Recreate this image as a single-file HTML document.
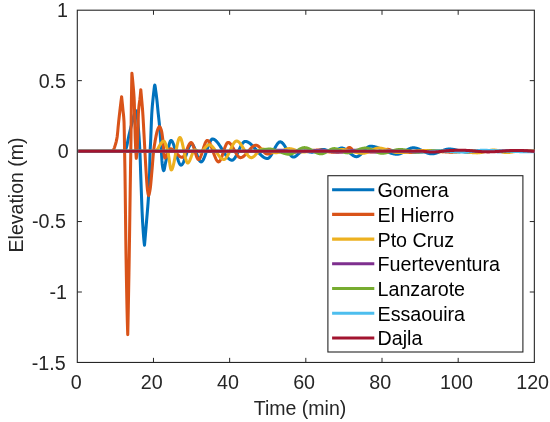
<!DOCTYPE html>
<html><head><meta charset="utf-8"><title>Elevation vs Time</title>
<style>html,body{margin:0;padding:0;background:#fff}body{width:550px;height:422px;overflow:hidden}</style></head>
<body>
<svg width="550" height="422" viewBox="0 0 550 422" style="display:block;font-family:'Liberation Sans',Arial,Helvetica,sans-serif">
<rect width="550" height="422" fill="#fff"/>
<g stroke="#262626" stroke-width="1.1" fill="none">
<rect x="77.3" y="10.2" width="457.05" height="352.25"/>
<path stroke-width="1.0" d="M153.48 362.45v-4.6M153.48 10.2v4.6M229.65 362.45v-4.6M229.65 10.2v4.6M305.82 362.45v-4.6M305.82 10.2v4.6M382.00 362.45v-4.6M382.00 10.2v4.6M458.18 362.45v-4.6M458.18 10.2v4.6M77.3 80.65h4.6M534.35 80.65h-4.6M77.3 151.10h4.6M534.35 151.10h-4.6M77.3 221.55h4.6M534.35 221.55h-4.6M77.3 292.00h4.6M534.35 292.00h-4.6"/>
</g>
<g fill="none" stroke-width="3.05" stroke-linejoin="round" stroke-linecap="butt">
<path stroke="#0072BD" d="M78.20 151.30 L124.30 151.30 L124.40 151.29 L124.70 151.13 L125.00 150.82 L125.30 150.45 L125.30 150.45 L125.60 149.90 L125.90 149.09 L126.20 148.11 L126.50 147.07 L126.50 147.07 L126.80 145.92 L127.10 144.59 L127.40 143.13 L127.70 141.58 L128.00 140.01 L128.30 138.46 L128.60 136.99 L128.80 136.07 L128.90 135.63 L129.20 134.33 L129.50 133.06 L129.80 131.81 L130.10 130.57 L130.40 129.36 L130.70 128.16 L131.00 126.98 L131.30 125.80 L131.60 124.64 L131.90 123.48 L132.00 123.10 L132.20 122.32 L132.50 121.09 L132.80 119.85 L133.10 118.61 L133.40 117.42 L133.70 116.30 L134.00 115.29 L134.30 114.42 L134.50 113.94 L134.60 113.71 L134.90 113.03 L135.20 112.36 L135.50 111.76 L135.80 111.28 L136.10 110.95 L136.40 110.83 L136.40 110.83 L136.70 111.50 L137.00 113.29 L137.30 115.95 L137.60 119.17 L137.90 122.68 L138.20 126.20 L138.30 127.33 L138.50 129.61 L138.80 133.33 L139.10 137.48 L139.40 142.14 L139.70 147.41 L139.90 151.30 L140.00 153.53 L140.30 161.92 L140.60 171.06 L140.70 173.86 L140.90 179.33 L141.20 187.75 L141.50 196.17 L141.80 204.25 L142.10 211.70 L142.40 218.17 L142.60 221.80 L142.70 223.44 L143.00 228.21 L143.30 232.66 L143.60 236.68 L143.90 240.18 L144.20 243.05 L144.50 245.21 L144.80 241.83 L145.10 238.40 L145.40 234.92 L145.70 231.41 L146.00 227.84 L146.30 224.23 L146.50 221.80 L146.60 220.59 L146.90 217.03 L147.20 213.53 L147.50 209.97 L147.80 206.28 L148.10 202.34 L148.40 198.08 L148.60 195.01 L148.70 193.42 L149.00 188.31 L149.30 182.01 L149.40 179.50 L149.60 172.24 L149.90 158.36 L150.10 151.30 L150.20 149.06 L150.50 143.88 L150.60 141.99 L150.80 137.44 L151.10 129.59 L151.40 121.66 L151.70 114.96 L151.80 113.23 L152.00 110.28 L152.30 106.48 L152.60 103.19 L152.90 100.14 L153.00 99.13 L153.20 97.14 L153.50 94.33 L153.80 91.75 L153.90 90.95 L154.10 89.20 L154.40 86.55 L154.70 85.07 L154.75 85.03 L155.00 85.64 L155.30 87.52 L155.60 89.86 L155.75 90.95 L155.90 91.99 L156.20 94.20 L156.50 96.58 L156.80 99.13 L156.80 99.13 L157.10 101.92 L157.40 104.96 L157.70 108.11 L158.00 111.24 L158.20 113.23 L158.30 114.19 L158.60 116.91 L158.90 119.60 L159.20 122.43 L159.40 124.51 L159.50 125.62 L159.80 129.14 L160.10 132.94 L160.40 136.95 L160.70 141.14 L161.00 145.45 L161.30 149.83 L161.40 151.30 L161.60 154.66 L161.90 160.15 L162.20 163.99 L162.20 163.99 L162.50 166.09 L162.80 167.91 L163.10 169.34 L163.40 170.28 L163.70 170.62 L163.70 170.62 L164.00 170.25 L164.30 169.26 L164.60 167.85 L164.90 166.21 L165.20 164.54 L165.50 163.02 L165.60 162.58 L165.80 161.72 L166.10 160.33 L166.40 158.84 L166.70 157.29 L167.00 155.68 L167.30 154.05 L167.60 152.41 L167.90 150.79 L168.20 149.21 L168.50 147.69 L168.80 146.26 L169.10 144.93 L169.40 143.73 L169.70 142.68 L170.00 141.81 L170.30 141.13 L170.60 140.67 L170.90 140.46 L171.00 140.44 L171.20 140.47 L171.50 140.62 L171.80 140.89 L172.10 141.27 L172.40 141.76 L172.70 142.34 L173.00 143.01 L173.30 143.76 L173.60 144.58 L173.90 145.46 L174.20 146.41 L174.50 147.40 L174.80 148.42 L175.10 149.49 L175.40 150.57 L175.70 151.67 L176.00 152.78 L176.30 153.89 L176.60 154.99 L176.90 156.08 L177.20 157.14 L177.50 158.17 L177.80 159.15 L178.10 160.10 L178.40 160.98 L178.70 161.80 L179.00 162.55 L179.30 163.22 L179.60 163.80 L179.90 164.29 L180.20 164.67 L180.50 164.94 L180.80 165.09 L181.00 165.12 L181.10 165.11 L181.40 165.03 L181.70 164.85 L182.00 164.58 L182.30 164.23 L182.60 163.79 L182.90 163.29 L183.20 162.72 L183.50 162.09 L183.80 161.41 L184.10 160.68 L184.40 159.90 L184.70 159.09 L185.00 158.25 L185.30 157.38 L185.60 156.50 L185.90 155.60 L186.20 154.69 L186.50 153.79 L186.80 152.89 L187.10 152.00 L187.40 151.12 L187.70 150.27 L188.00 149.45 L188.30 148.66 L188.60 147.92 L188.90 147.22 L189.20 146.57 L189.50 145.98 L189.80 145.45 L190.10 145.00 L190.40 144.62 L190.70 144.32 L191.00 144.11 L191.30 143.99 L191.50 143.97 L191.60 143.97 L191.90 144.06 L192.20 144.24 L192.50 144.51 L192.80 144.86 L193.10 145.29 L193.40 145.79 L193.70 146.36 L194.00 146.98 L194.30 147.65 L194.60 148.36 L194.90 149.12 L195.20 149.90 L195.50 150.70 L195.80 151.53 L196.10 152.36 L196.40 153.20 L196.70 154.04 L197.00 154.87 L197.30 155.68 L197.60 156.47 L197.90 157.23 L198.20 157.96 L198.50 158.65 L198.80 159.28 L199.10 159.87 L199.40 160.39 L199.70 160.84 L200.00 161.22 L200.30 161.52 L200.60 161.73 L200.90 161.85 L201.10 161.88 L201.20 161.87 L201.50 161.79 L201.80 161.63 L202.10 161.38 L202.40 161.05 L202.70 160.65 L203.00 160.18 L203.30 159.65 L203.60 159.06 L203.90 158.42 L204.20 157.73 L204.50 156.99 L204.80 156.22 L205.10 155.41 L205.40 154.58 L205.70 153.72 L206.00 152.84 L206.30 151.95 L206.60 151.05 L206.90 150.15 L207.20 149.25 L207.50 148.36 L207.80 147.48 L208.10 146.61 L208.40 145.77 L208.70 144.95 L209.00 144.17 L209.30 143.42 L209.60 142.72 L209.90 142.06 L210.20 141.45 L210.50 140.90 L210.80 140.41 L211.10 139.98 L211.40 139.63 L211.70 139.35 L212.00 139.16 L212.30 139.05 L212.50 139.03 L212.60 139.03 L212.90 139.06 L213.20 139.11 L213.50 139.19 L213.80 139.30 L214.10 139.44 L214.40 139.60 L214.70 139.78 L215.00 139.99 L215.30 140.22 L215.60 140.47 L215.90 140.74 L216.20 141.03 L216.50 141.34 L216.80 141.66 L217.10 142.01 L217.40 142.37 L217.70 142.74 L218.00 143.13 L218.30 143.53 L218.60 143.95 L218.90 144.37 L219.20 144.81 L219.50 145.25 L219.80 145.71 L220.10 146.17 L220.40 146.63 L220.70 147.11 L221.00 147.59 L221.30 148.07 L221.60 148.55 L221.90 149.04 L222.20 149.53 L222.50 150.01 L222.80 150.50 L223.10 150.99 L223.40 151.47 L223.70 151.95 L224.00 152.42 L224.30 152.89 L224.60 153.36 L224.90 153.81 L225.20 154.26 L225.50 154.70 L225.80 155.13 L226.10 155.55 L226.40 155.95 L226.70 156.35 L227.00 156.72 L227.30 157.09 L227.60 157.44 L227.90 157.77 L228.20 158.09 L228.50 158.38 L228.80 158.66 L229.10 158.92 L229.40 159.16 L229.70 159.37 L230.00 159.56 L230.30 159.73 L230.60 159.87 L230.90 159.99 L231.20 160.08 L231.50 160.14 L231.80 160.18 L232.00 160.18 L232.10 160.18 L232.40 160.13 L232.70 160.03 L233.00 159.88 L233.30 159.67 L233.60 159.42 L233.90 159.13 L234.20 158.79 L234.50 158.42 L234.80 158.01 L235.10 157.57 L235.40 157.09 L235.70 156.59 L236.00 156.06 L236.30 155.51 L236.60 154.94 L236.90 154.35 L237.20 153.75 L237.50 153.13 L237.80 152.50 L238.10 151.87 L238.40 151.23 L238.70 150.59 L239.00 149.96 L239.30 149.32 L239.60 148.69 L239.90 148.07 L240.20 147.46 L240.50 146.87 L240.80 146.29 L241.10 145.73 L241.40 145.20 L241.70 144.69 L242.00 144.20 L242.30 143.75 L242.60 143.33 L242.90 142.94 L243.20 142.59 L243.50 142.28 L243.80 142.02 L244.10 141.80 L244.40 141.63 L244.70 141.51 L245.00 141.44 L245.20 141.43 L245.30 141.43 L245.60 141.45 L245.90 141.48 L246.20 141.53 L246.50 141.60 L246.80 141.68 L247.10 141.78 L247.40 141.90 L247.70 142.03 L248.00 142.18 L248.30 142.34 L248.60 142.51 L248.90 142.69 L249.20 142.89 L249.50 143.10 L249.80 143.32 L250.10 143.56 L250.40 143.80 L250.70 144.05 L251.00 144.32 L251.30 144.59 L251.60 144.87 L251.90 145.15 L252.20 145.45 L252.50 145.75 L252.80 146.06 L253.10 146.37 L253.40 146.69 L253.70 147.02 L254.00 147.35 L254.30 147.68 L254.60 148.02 L254.90 148.36 L255.20 148.70 L255.50 149.04 L255.80 149.38 L256.10 149.73 L256.40 150.08 L256.70 150.42 L257.00 150.77 L257.30 151.11 L257.60 151.45 L257.90 151.79 L258.20 152.13 L258.50 152.46 L258.80 152.79 L259.10 153.12 L259.40 153.44 L259.70 153.76 L260.00 154.07 L260.30 154.37 L260.60 154.67 L260.90 154.96 L261.20 155.24 L261.50 155.52 L261.80 155.78 L262.10 156.04 L262.40 156.28 L262.70 156.52 L263.00 156.75 L263.30 156.96 L263.60 157.16 L263.90 157.35 L264.20 157.53 L264.50 157.69 L264.80 157.84 L265.10 157.98 L265.40 158.10 L265.70 158.21 L266.00 158.30 L266.30 158.37 L266.60 158.43 L266.90 158.47 L267.20 158.49 L267.40 158.49 L267.50 158.49 L267.80 158.44 L268.10 158.35 L268.40 158.20 L268.70 158.01 L269.00 157.78 L269.30 157.50 L269.60 157.19 L269.90 156.83 L270.20 156.45 L270.50 156.04 L270.80 155.59 L271.10 155.12 L271.40 154.63 L271.70 154.12 L272.00 153.59 L272.30 153.04 L272.60 152.48 L272.90 151.92 L273.20 151.34 L273.50 150.76 L273.80 150.17 L274.10 149.59 L274.40 149.01 L274.70 148.43 L275.00 147.86 L275.30 147.30 L275.60 146.75 L275.90 146.22 L276.20 145.71 L276.50 145.22 L276.80 144.75 L277.10 144.31 L277.40 143.89 L277.70 143.51 L278.00 143.16 L278.30 142.84 L278.60 142.57 L278.90 142.33 L279.20 142.14 L279.50 142.00 L279.80 141.90 L280.10 141.86 L280.20 141.85 L280.40 141.86 L280.70 141.92 L281.00 142.01 L281.30 142.15 L281.60 142.32 L281.90 142.54 L282.20 142.78 L282.50 143.06 L282.80 143.37 L283.10 143.71 L283.40 144.07 L283.70 144.46 L284.00 144.87 L284.30 145.30 L284.60 145.75 L284.90 146.21 L285.20 146.69 L285.50 147.18 L285.80 147.68 L286.10 148.18 L286.40 148.70 L286.70 149.21 L287.00 149.72 L287.30 150.24 L287.60 150.75 L287.90 151.26 L288.20 151.75 L288.50 152.24 L288.80 152.72 L289.10 153.18 L289.40 153.63 L289.70 154.06 L290.00 154.47 L290.30 154.86 L290.60 155.22 L290.90 155.56 L291.20 155.87 L291.50 156.15 L291.80 156.40 L292.10 156.61 L292.40 156.79 L292.70 156.92 L293.00 157.02 L293.30 157.07 L293.50 157.08 L293.60 157.08 L293.90 157.05 L294.20 156.99 L294.50 156.89 L294.80 156.77 L295.10 156.62 L295.40 156.45 L295.70 156.26 L296.00 156.04 L296.30 155.81 L296.60 155.57 L296.90 155.31 L297.20 155.04 L297.50 154.76 L297.80 154.48 L298.10 154.19 L298.40 153.91 L298.70 153.62 L299.00 153.34 L299.30 153.06 L299.60 152.79 L299.90 152.53 L300.20 152.29 L300.50 152.06 L300.80 151.84 L301.10 151.65 L301.40 151.48 L301.70 151.33 L302.00 151.21 L302.30 151.11 L302.60 151.05 L302.90 151.02 L303.00 151.02 L303.20 151.02 L303.50 151.03 L303.80 151.04 L304.10 151.06 L304.40 151.09 L304.70 151.12 L305.00 151.16 L305.30 151.20 L305.60 151.25 L305.90 151.29 L306.20 151.34 L306.50 151.40 L306.80 151.45 L307.10 151.51 L307.40 151.56 L307.70 151.62 L308.00 151.68 L308.30 151.73 L308.60 151.78 L308.90 151.84 L309.20 151.89 L309.50 151.93 L309.80 151.98 L310.10 152.02 L310.40 152.05 L310.70 152.08 L311.00 152.11 L311.30 152.13 L311.60 152.14 L311.90 152.15 L312.00 152.15 L312.20 152.14 L312.50 152.13 L312.80 152.11 L313.10 152.07 L313.40 152.03 L313.70 151.97 L314.00 151.91 L314.30 151.84 L314.60 151.77 L314.90 151.69 L315.20 151.60 L315.50 151.50 L315.80 151.41 L316.10 151.31 L316.40 151.20 L316.70 151.10 L317.00 150.99 L317.30 150.88 L317.60 150.77 L317.90 150.66 L318.20 150.55 L318.50 150.45 L318.80 150.34 L319.10 150.24 L319.40 150.14 L319.70 150.05 L320.00 149.96 L320.30 149.87 L320.60 149.79 L320.90 149.72 L321.20 149.66 L321.50 149.60 L321.80 149.56 L322.10 149.52 L322.40 149.49 L322.70 149.47 L323.00 149.47 L323.00 149.47 L323.30 149.47 L323.60 149.49 L323.90 149.53 L324.20 149.57 L324.50 149.62 L324.80 149.69 L325.10 149.76 L325.40 149.84 L325.70 149.92 L326.00 150.02 L326.30 150.11 L326.60 150.21 L326.90 150.31 L327.20 150.42 L327.50 150.52 L327.80 150.63 L328.10 150.73 L328.40 150.84 L328.70 150.94 L329.00 151.03 L329.30 151.13 L329.60 151.21 L329.90 151.29 L330.20 151.36 L330.50 151.43 L330.80 151.48 L331.10 151.52 L331.40 151.56 L331.70 151.58 L332.00 151.58 L332.00 151.58 L332.30 151.57 L332.60 151.54 L332.90 151.50 L333.20 151.44 L333.50 151.36 L333.80 151.27 L334.10 151.17 L334.40 151.05 L334.70 150.93 L335.00 150.79 L335.30 150.65 L335.60 150.50 L335.90 150.35 L336.20 150.19 L336.50 150.03 L336.80 149.87 L337.10 149.71 L337.40 149.55 L337.70 149.39 L338.00 149.24 L338.30 149.08 L338.60 148.94 L338.90 148.80 L339.20 148.67 L339.50 148.55 L339.80 148.44 L340.10 148.34 L340.40 148.25 L340.70 148.18 L341.00 148.12 L341.30 148.08 L341.60 148.06 L341.80 148.06 L341.90 148.06 L342.20 148.08 L342.50 148.11 L342.80 148.17 L343.10 148.25 L343.40 148.34 L343.70 148.45 L344.00 148.58 L344.30 148.72 L344.60 148.87 L344.90 149.04 L345.20 149.22 L345.50 149.42 L345.80 149.62 L346.10 149.83 L346.40 150.06 L346.70 150.29 L347.00 150.52 L347.30 150.77 L347.60 151.02 L347.90 151.27 L348.20 151.53 L348.50 151.79 L348.80 152.05 L349.10 152.31 L349.40 152.58 L349.70 152.84 L350.00 153.10 L350.30 153.36 L350.60 153.61 L350.90 153.86 L351.20 154.11 L351.50 154.35 L351.80 154.58 L352.10 154.81 L352.40 155.02 L352.70 155.23 L353.00 155.43 L353.30 155.61 L353.60 155.79 L353.90 155.95 L354.20 156.09 L354.50 156.22 L354.80 156.34 L355.10 156.44 L355.40 156.52 L355.70 156.58 L356.00 156.63 L356.30 156.65 L356.50 156.66 L356.60 156.66 L356.90 156.63 L357.20 156.58 L357.50 156.51 L357.80 156.40 L358.10 156.28 L358.40 156.13 L358.70 155.97 L359.00 155.78 L359.30 155.57 L359.60 155.35 L359.90 155.11 L360.20 154.86 L360.50 154.59 L360.80 154.31 L361.10 154.02 L361.40 153.72 L361.70 153.41 L362.00 153.09 L362.30 152.77 L362.60 152.44 L362.90 152.11 L363.20 151.78 L363.50 151.44 L363.80 151.11 L364.10 150.77 L364.40 150.44 L364.70 150.11 L365.00 149.79 L365.30 149.47 L365.60 149.16 L365.90 148.86 L366.20 148.57 L366.50 148.29 L366.80 148.03 L367.10 147.77 L367.40 147.53 L367.70 147.31 L368.00 147.10 L368.30 146.92 L368.60 146.75 L368.90 146.60 L369.20 146.48 L369.50 146.38 L369.80 146.30 L370.10 146.25 L370.40 146.23 L370.50 146.22 L370.70 146.23 L371.00 146.23 L371.30 146.25 L371.60 146.26 L371.90 146.29 L372.20 146.32 L372.50 146.35 L372.80 146.39 L373.10 146.44 L373.40 146.49 L373.70 146.54 L374.00 146.60 L374.30 146.67 L374.60 146.73 L374.90 146.81 L375.20 146.88 L375.50 146.96 L375.80 147.05 L376.10 147.14 L376.40 147.23 L376.70 147.32 L377.00 147.42 L377.30 147.52 L377.60 147.63 L377.90 147.73 L378.20 147.84 L378.50 147.96 L378.80 148.07 L379.10 148.19 L379.40 148.31 L379.70 148.43 L380.00 148.55 L380.30 148.68 L380.60 148.80 L380.90 148.93 L381.20 149.06 L381.50 149.19 L381.80 149.32 L382.10 149.46 L382.40 149.59 L382.70 149.72 L383.00 149.86 L383.30 149.99 L383.60 150.13 L383.90 150.27 L384.20 150.40 L384.50 150.54 L384.80 150.67 L385.10 150.81 L385.40 150.94 L385.70 151.07 L386.00 151.20 L386.30 151.34 L386.60 151.47 L386.90 151.60 L387.20 151.72 L387.50 151.85 L387.80 151.97 L388.10 152.10 L388.40 152.22 L388.70 152.34 L389.00 152.45 L389.30 152.57 L389.60 152.68 L389.90 152.79 L390.20 152.89 L390.50 153.00 L390.80 153.10 L391.10 153.19 L391.40 153.29 L391.70 153.38 L392.00 153.47 L392.30 153.55 L392.60 153.63 L392.90 153.70 L393.20 153.77 L393.50 153.84 L393.80 153.90 L394.10 153.96 L394.40 154.01 L394.70 154.06 L395.00 154.11 L395.30 154.14 L395.60 154.18 L395.90 154.21 L396.20 154.23 L396.50 154.24 L396.80 154.26 L397.10 154.26 L397.20 154.26 L397.40 154.26 L397.70 154.24 L398.00 154.21 L398.30 154.17 L398.60 154.12 L398.90 154.06 L399.20 153.99 L399.50 153.90 L399.80 153.81 L400.10 153.71 L400.40 153.59 L400.70 153.47 L401.00 153.35 L401.30 153.21 L401.60 153.07 L401.90 152.93 L402.20 152.77 L402.50 152.62 L402.80 152.45 L403.10 152.29 L403.40 152.12 L403.70 151.94 L404.00 151.77 L404.30 151.59 L404.60 151.41 L404.90 151.23 L405.20 151.05 L405.50 150.87 L405.80 150.69 L406.10 150.51 L406.40 150.33 L406.70 150.15 L407.00 149.98 L407.30 149.81 L407.60 149.64 L407.90 149.47 L408.20 149.32 L408.50 149.16 L408.80 149.01 L409.10 148.87 L409.40 148.73 L409.70 148.60 L410.00 148.48 L410.30 148.37 L410.60 148.26 L410.90 148.16 L411.20 148.08 L411.50 148.00 L411.80 147.93 L412.10 147.88 L412.40 147.83 L412.70 147.80 L413.00 147.78 L413.30 147.78 L413.30 147.78 L413.60 147.78 L413.90 147.79 L414.20 147.82 L414.50 147.85 L414.80 147.89 L415.10 147.94 L415.40 147.99 L415.70 148.05 L416.00 148.12 L416.30 148.20 L416.60 148.28 L416.90 148.37 L417.20 148.47 L417.50 148.57 L417.80 148.68 L418.10 148.79 L418.40 148.90 L418.70 149.02 L419.00 149.15 L419.30 149.27 L419.60 149.41 L419.90 149.54 L420.20 149.68 L420.50 149.82 L420.80 149.96 L421.10 150.10 L421.40 150.24 L421.70 150.39 L422.00 150.54 L422.30 150.68 L422.60 150.83 L422.90 150.98 L423.20 151.13 L423.50 151.27 L423.80 151.42 L424.10 151.56 L424.40 151.70 L424.70 151.84 L425.00 151.98 L425.30 152.12 L425.60 152.25 L425.90 152.38 L426.20 152.51 L426.50 152.63 L426.80 152.75 L427.10 152.86 L427.40 152.97 L427.70 153.08 L428.00 153.18 L428.30 153.27 L428.60 153.36 L428.90 153.44 L429.20 153.51 L429.50 153.58 L429.80 153.64 L430.10 153.69 L430.40 153.74 L430.70 153.78 L431.00 153.80 L431.30 153.82 L431.60 153.84 L431.80 153.84 L431.90 153.84 L432.20 153.83 L432.50 153.82 L432.80 153.79 L433.10 153.76 L433.40 153.73 L433.70 153.68 L434.00 153.63 L434.30 153.57 L434.60 153.51 L434.90 153.44 L435.20 153.37 L435.50 153.29 L435.80 153.20 L436.10 153.11 L436.40 153.02 L436.70 152.92 L437.00 152.82 L437.30 152.72 L437.60 152.61 L437.90 152.50 L438.20 152.38 L438.50 152.27 L438.80 152.15 L439.10 152.03 L439.40 151.91 L439.70 151.79 L440.00 151.67 L440.30 151.54 L440.60 151.42 L440.90 151.30 L441.20 151.17 L441.50 151.05 L441.80 150.93 L442.10 150.81 L442.40 150.69 L442.70 150.58 L443.00 150.46 L443.30 150.35 L443.60 150.24 L443.90 150.13 L444.20 150.03 L444.50 149.93 L444.80 149.83 L445.10 149.74 L445.40 149.65 L445.70 149.57 L446.00 149.49 L446.30 149.42 L446.60 149.35 L446.90 149.29 L447.20 149.23 L447.50 149.19 L447.80 149.14 L448.10 149.11 L448.40 149.08 L448.70 149.06 L449.00 149.05 L449.30 149.04 L449.30 149.04 L449.60 149.05 L449.90 149.05 L450.20 149.06 L450.50 149.08 L450.80 149.10 L451.10 149.12 L451.40 149.15 L451.70 149.18 L452.00 149.21 L452.30 149.25 L452.60 149.29 L452.90 149.34 L453.20 149.38 L453.50 149.43 L453.80 149.48 L454.10 149.54 L454.40 149.60 L454.70 149.66 L455.00 149.72 L455.30 149.78 L455.60 149.85 L455.90 149.91 L456.20 149.98 L456.50 150.05 L456.80 150.12 L457.10 150.20 L457.40 150.27 L457.70 150.34 L458.00 150.42 L458.30 150.49 L458.60 150.57 L458.90 150.65 L459.20 150.72 L459.50 150.80 L459.80 150.88 L460.10 150.95 L460.40 151.03 L460.70 151.10 L461.00 151.18 L461.30 151.25 L461.60 151.32 L461.90 151.40 L462.20 151.47 L462.50 151.54 L462.80 151.60 L463.10 151.67 L463.40 151.73 L463.70 151.80 L464.00 151.86 L464.30 151.91 L464.60 151.97 L464.90 152.02 L465.20 152.07 L465.50 152.12 L465.80 152.17 L466.10 152.21 L466.40 152.25 L466.70 152.28 L467.00 152.31 L467.30 152.34 L467.60 152.37 L467.90 152.39 L468.20 152.40 L468.50 152.42 L468.80 152.42 L469.10 152.43 L469.20 152.43 L469.40 152.43 L469.70 152.42 L470.00 152.42 L470.30 152.41 L470.60 152.39 L470.90 152.38 L471.20 152.36 L471.50 152.34 L471.80 152.32 L472.10 152.29 L472.40 152.26 L472.70 152.23 L473.00 152.20 L473.30 152.17 L473.60 152.13 L473.90 152.10 L474.20 152.06 L474.50 152.02 L474.80 151.98 L475.10 151.94 L475.40 151.90 L475.70 151.86 L476.00 151.81 L476.30 151.77 L476.60 151.73 L476.90 151.68 L477.20 151.64 L477.50 151.59 L477.80 151.55 L478.10 151.51 L478.40 151.46 L478.70 151.42 L479.00 151.38 L479.30 151.34 L479.60 151.30 L479.90 151.26 L480.20 151.22 L480.50 151.18 L480.80 151.15 L481.10 151.11 L481.40 151.08 L481.70 151.05 L482.00 151.02 L482.30 151.00 L482.60 150.97 L482.90 150.95 L483.20 150.93 L483.50 150.92 L483.80 150.90 L484.10 150.89 L484.40 150.88 L484.70 150.88 L485.00 150.88 L485.00 150.88 L485.30 150.88 L485.60 150.88 L485.90 150.89 L486.20 150.89 L486.50 150.90 L486.80 150.91 L487.10 150.92 L487.40 150.94 L487.70 150.95 L488.00 150.96 L488.30 150.98 L488.60 151.00 L488.90 151.02 L489.20 151.04 L489.50 151.06 L489.80 151.08 L490.10 151.10 L490.40 151.13 L490.70 151.15 L491.00 151.17 L491.30 151.20 L491.60 151.22 L491.90 151.25 L492.20 151.27 L492.50 151.30 L492.80 151.33 L493.10 151.35 L493.40 151.38 L493.70 151.40 L494.00 151.43 L494.30 151.45 L494.60 151.47 L494.90 151.50 L495.20 151.52 L495.50 151.54 L495.80 151.56 L496.10 151.58 L496.40 151.60 L496.70 151.62 L497.00 151.64 L497.30 151.65 L497.60 151.66 L497.90 151.68 L498.20 151.69 L498.50 151.70 L498.80 151.71 L499.10 151.71 L499.40 151.72 L499.70 151.72 L500.00 151.72 L500.00 151.72 L500.30 151.72 L500.60 151.72 L500.90 151.72 L501.20 151.71 L501.50 151.70 L501.80 151.69 L502.10 151.69 L502.40 151.67 L502.70 151.66 L503.00 151.65 L503.30 151.64 L503.60 151.62 L503.90 151.60 L504.20 151.59 L504.50 151.57 L504.80 151.55 L505.10 151.53 L505.40 151.51 L505.70 151.49 L506.00 151.47 L506.30 151.45 L506.60 151.43 L506.90 151.41 L507.20 151.39 L507.50 151.37 L507.80 151.35 L508.10 151.33 L508.40 151.31 L508.70 151.29 L509.00 151.27 L509.30 151.25 L509.60 151.23 L509.90 151.21 L510.20 151.19 L510.50 151.17 L510.80 151.15 L511.10 151.14 L511.40 151.12 L511.70 151.11 L512.00 151.09 L512.30 151.08 L512.60 151.07 L512.90 151.06 L513.20 151.05 L513.50 151.04 L513.80 151.03 L514.10 151.03 L514.40 151.02 L514.70 151.02 L515.00 151.02 L515.30 151.02 L515.60 151.02 L515.90 151.02 L516.20 151.02 L516.50 151.02 L516.80 151.02 L517.10 151.02 L517.40 151.02 L517.70 151.02 L518.00 151.02 L518.30 151.02 L518.60 151.02 L518.90 151.02 L519.20 151.02 L519.50 151.02 L519.80 151.02 L520.10 151.02 L520.40 151.02 L520.70 151.02 L521.00 151.03 L521.30 151.03 L521.60 151.03 L521.90 151.03 L522.20 151.03 L522.50 151.03 L522.80 151.04 L523.10 151.04 L523.40 151.04 L523.70 151.04 L524.00 151.04 L524.30 151.05 L524.60 151.05 L524.90 151.05 L525.20 151.06 L525.50 151.06 L525.80 151.06 L526.10 151.07 L526.40 151.07 L526.70 151.08 L527.00 151.08 L527.30 151.09 L527.60 151.09 L527.90 151.10 L528.20 151.10 L528.50 151.11 L528.80 151.11 L529.10 151.12 L529.40 151.13 L529.70 151.14 L530.00 151.14 L530.30 151.15 L530.60 151.16 L530.90 151.17 L531.20 151.17 L531.50 151.18 L531.80 151.19 L532.10 151.20 L532.40 151.21 L532.70 151.22 L533.00 151.23 L533.30 151.24 L533.60 151.26 L533.90 151.27 L534.20 151.28 L534.50 151.29 L534.70 151.30"/>
<path stroke="#D95319" d="M78.20 151.30 L111.30 151.30 L111.50 151.28 L111.80 151.18 L112.10 151.01 L112.40 150.79 L112.70 150.51 L113.00 150.19 L113.30 149.85 L113.50 149.61 L113.60 149.48 L113.90 148.96 L114.20 148.28 L114.50 147.47 L114.80 146.56 L115.10 145.59 L115.40 144.59 L115.50 144.25 L115.70 143.57 L116.00 142.48 L116.30 141.29 L116.60 139.93 L116.90 138.37 L117.10 137.20 L117.20 136.53 L117.50 133.94 L117.80 130.78 L118.10 127.44 L118.40 124.29 L118.45 123.81 L118.70 121.46 L119.00 118.71 L119.30 116.02 L119.60 113.38 L119.65 112.95 L119.90 110.78 L120.20 108.22 L120.50 105.68 L120.80 103.19 L121.10 100.73 L121.40 98.32 L121.60 96.73 L121.90 99.45 L122.20 102.29 L122.50 105.25 L122.80 108.32 L123.00 110.41 L123.10 111.41 L123.40 114.03 L123.70 116.98 L124.00 121.43 L124.05 122.40 L124.30 132.99 L124.60 151.30 L124.60 151.30 L124.90 167.83 L125.00 174.00 L125.20 188.69 L125.50 214.58 L125.80 240.04 L126.00 253.95 L126.10 259.90 L126.40 277.20 L126.70 293.32 L127.00 307.85 L127.30 320.40 L127.60 330.55 L127.75 334.60 L128.05 320.78 L128.35 305.80 L128.65 289.79 L128.95 272.87 L129.10 264.10 L129.25 254.92 L129.55 235.07 L129.85 214.15 L130.15 193.29 L130.25 186.55 L130.45 173.67 L130.75 154.61 L131.00 137.06 L131.05 133.06 L131.35 105.70 L131.45 98.00 L131.65 85.43 L131.90 73.19 L132.20 75.85 L132.50 78.77 L132.80 81.93 L133.10 85.28 L133.20 86.44 L133.40 88.69 L133.70 92.13 L134.00 96.29 L134.20 99.84 L134.30 102.25 L134.60 113.38 L134.90 126.62 L135.20 137.20 L135.20 137.20 L135.50 144.53 L135.80 150.93 L136.10 155.96 L136.30 158.35 L136.60 156.24 L136.90 152.53 L137.20 147.64 L137.50 142.00 L137.60 140.02 L137.80 134.57 L138.10 123.45 L138.40 113.77 L138.50 111.82 L138.70 109.13 L139.00 105.97 L139.30 103.51 L139.60 101.37 L139.90 99.15 L140.20 96.45 L140.20 96.45 L140.50 93.19 L140.80 89.68 L141.10 93.04 L141.40 96.45 L141.40 96.45 L141.70 99.82 L142.00 103.16 L142.30 106.64 L142.60 110.45 L142.70 111.82 L142.90 114.80 L143.20 119.79 L143.50 125.20 L143.80 130.82 L144.10 136.41 L144.30 140.02 L144.40 141.80 L144.70 147.26 L145.00 152.81 L145.30 158.29 L145.60 163.57 L145.90 168.51 L146.00 170.05 L146.20 173.14 L146.50 177.82 L146.80 182.29 L147.10 186.22 L147.40 189.30 L147.50 190.08 L147.70 191.46 L148.00 193.33 L148.30 194.76 L148.60 195.57 L148.90 194.95 L149.20 193.95 L149.50 192.66 L149.80 191.16 L150.00 190.08 L150.10 189.48 L150.40 187.26 L150.70 184.49 L151.00 181.35 L151.30 178.01 L151.60 174.63 L151.80 172.45 L151.90 171.35 L152.20 167.78 L152.50 163.95 L152.80 160.09 L153.10 156.41 L153.40 153.14 L153.60 151.30 L153.70 150.47 L154.00 148.17 L154.30 146.08 L154.60 144.17 L154.90 142.40 L155.20 140.73 L155.20 140.72 L155.50 139.07 L155.80 137.44 L156.10 135.85 L156.40 134.34 L156.70 132.96 L157.00 131.74 L157.30 130.71 L157.50 130.15 L157.60 129.90 L157.90 129.14 L158.20 128.41 L158.50 127.76 L158.80 127.22 L159.10 126.83 L159.40 126.64 L159.50 126.63 L159.70 126.69 L160.00 126.98 L160.30 127.49 L160.60 128.17 L160.90 128.97 L161.20 129.85 L161.30 130.15 L161.50 130.87 L161.80 132.33 L162.10 134.19 L162.40 136.37 L162.70 138.81 L163.00 141.43 L163.00 141.43 L163.30 145.09 L163.60 149.61 L163.90 153.34 L164.00 154.12 L164.20 155.36 L164.50 156.96 L164.80 157.86 L164.90 157.93 L165.10 157.89 L165.40 157.71 L165.70 157.40 L166.00 156.97 L166.30 156.45 L166.60 155.84 L166.90 155.17 L167.20 154.46 L167.50 153.72 L167.80 152.97 L168.10 152.23 L168.40 151.52 L168.70 150.85 L169.00 150.24 L169.30 149.72 L169.60 149.29 L169.90 148.98 L170.20 148.80 L170.40 148.76 L170.50 148.76 L170.80 148.79 L171.10 148.85 L171.40 148.94 L171.70 149.05 L172.00 149.19 L172.30 149.36 L172.60 149.55 L172.90 149.76 L173.20 149.99 L173.50 150.23 L173.80 150.49 L174.10 150.77 L174.40 151.06 L174.70 151.36 L175.00 151.66 L175.30 151.98 L175.60 152.30 L175.90 152.63 L176.20 152.95 L176.50 153.28 L176.80 153.61 L177.10 153.93 L177.40 154.25 L177.70 154.56 L178.00 154.87 L178.30 155.17 L178.60 155.45 L178.90 155.72 L179.20 155.98 L179.50 156.22 L179.80 156.44 L180.10 156.64 L180.40 156.82 L180.70 156.98 L181.00 157.11 L181.30 157.22 L181.60 157.30 L181.90 157.35 L182.20 157.36 L182.20 157.36 L182.50 157.31 L182.80 157.17 L183.10 156.95 L183.40 156.64 L183.70 156.27 L184.00 155.82 L184.30 155.32 L184.60 154.77 L184.90 154.17 L185.20 153.52 L185.50 152.85 L185.80 152.15 L186.10 151.43 L186.40 150.70 L186.70 149.96 L187.00 149.22 L187.30 148.49 L187.60 147.77 L187.90 147.07 L188.20 146.40 L188.50 145.76 L188.80 145.15 L189.10 144.60 L189.40 144.10 L189.70 143.65 L190.00 143.28 L190.30 142.97 L190.60 142.75 L190.90 142.61 L191.20 142.56 L191.20 142.56 L191.50 142.64 L191.80 142.88 L192.10 143.27 L192.40 143.78 L192.70 144.41 L193.00 145.14 L193.30 145.95 L193.60 146.84 L193.90 147.79 L194.20 148.78 L194.50 149.80 L194.80 150.84 L195.10 151.89 L195.40 152.92 L195.70 153.92 L196.00 154.88 L196.30 155.79 L196.60 156.64 L196.90 157.40 L197.20 158.06 L197.50 158.61 L197.80 159.04 L198.10 159.33 L198.40 159.47 L198.50 159.48 L198.70 159.45 L199.00 159.30 L199.30 159.03 L199.60 158.66 L199.90 158.19 L200.20 157.62 L200.50 156.98 L200.80 156.26 L201.10 155.47 L201.40 154.64 L201.70 153.76 L202.00 152.84 L202.30 151.90 L202.60 150.93 L202.90 149.96 L203.20 148.99 L203.50 148.03 L203.80 147.08 L204.10 146.16 L204.40 145.28 L204.70 144.45 L205.00 143.66 L205.30 142.95 L205.60 142.30 L205.90 141.74 L206.20 141.26 L206.50 140.89 L206.80 140.62 L207.10 140.47 L207.30 140.44 L207.40 140.45 L207.70 140.52 L208.00 140.68 L208.30 140.92 L208.60 141.23 L208.90 141.61 L209.20 142.06 L209.50 142.56 L209.80 143.13 L210.10 143.74 L210.40 144.40 L210.70 145.10 L211.00 145.83 L211.30 146.60 L211.60 147.39 L211.90 148.21 L212.20 149.04 L212.50 149.88 L212.80 150.73 L213.10 151.59 L213.40 152.44 L213.70 153.28 L214.00 154.11 L214.30 154.93 L214.60 155.72 L214.90 156.49 L215.20 157.22 L215.50 157.92 L215.80 158.58 L216.10 159.19 L216.40 159.75 L216.70 160.26 L217.00 160.71 L217.30 161.09 L217.60 161.40 L217.90 161.64 L218.20 161.80 L218.50 161.87 L218.60 161.88 L218.80 161.85 L219.10 161.72 L219.40 161.48 L219.70 161.15 L220.00 160.73 L220.30 160.23 L220.60 159.65 L220.90 159.01 L221.20 158.30 L221.50 157.54 L221.80 156.74 L222.10 155.90 L222.40 155.03 L222.70 154.13 L223.00 153.22 L223.30 152.30 L223.60 151.38 L223.90 150.46 L224.20 149.56 L224.50 148.68 L224.80 147.83 L225.10 147.01 L225.40 146.24 L225.70 145.52 L226.00 144.85 L226.30 144.25 L226.60 143.72 L226.90 143.27 L227.20 142.91 L227.50 142.64 L227.80 142.47 L228.10 142.42 L228.10 142.42 L228.40 142.44 L228.70 142.52 L229.00 142.65 L229.30 142.82 L229.60 143.04 L229.90 143.30 L230.20 143.60 L230.50 143.93 L230.80 144.30 L231.10 144.69 L231.40 145.12 L231.70 145.57 L232.00 146.04 L232.30 146.53 L232.60 147.04 L232.90 147.56 L233.20 148.10 L233.50 148.65 L233.80 149.20 L234.10 149.75 L234.40 150.31 L234.70 150.87 L235.00 151.42 L235.30 151.96 L235.60 152.50 L235.90 153.02 L236.20 153.53 L236.50 154.02 L236.80 154.50 L237.10 154.94 L237.40 155.37 L237.70 155.77 L238.00 156.13 L238.30 156.46 L238.60 156.76 L238.90 157.02 L239.20 157.24 L239.50 157.41 L239.80 157.54 L240.10 157.62 L240.40 157.65 L240.40 157.65 L240.70 157.63 L241.00 157.59 L241.30 157.53 L241.60 157.44 L241.90 157.32 L242.20 157.19 L242.50 157.03 L242.80 156.85 L243.10 156.66 L243.40 156.44 L243.70 156.21 L244.00 155.97 L244.30 155.71 L244.60 155.43 L244.90 155.14 L245.20 154.84 L245.50 154.53 L245.80 154.21 L246.10 153.89 L246.40 153.55 L246.70 153.21 L247.00 152.86 L247.30 152.51 L247.60 152.16 L247.90 151.80 L248.20 151.44 L248.50 151.08 L248.80 150.73 L249.10 150.37 L249.40 150.02 L249.70 149.67 L250.00 149.33 L250.30 149.00 L250.60 148.67 L250.90 148.35 L251.20 148.04 L251.50 147.74 L251.80 147.45 L252.10 147.18 L252.40 146.91 L252.70 146.67 L253.00 146.44 L253.30 146.22 L253.60 146.03 L253.90 145.85 L254.20 145.69 L254.50 145.56 L254.80 145.45 L255.10 145.36 L255.40 145.29 L255.70 145.25 L256.00 145.24 L256.00 145.24 L256.30 145.25 L256.60 145.31 L256.90 145.39 L257.20 145.51 L257.50 145.65 L257.80 145.82 L258.10 146.02 L258.40 146.24 L258.70 146.48 L259.00 146.73 L259.30 147.01 L259.60 147.30 L259.90 147.61 L260.20 147.92 L260.50 148.25 L260.80 148.58 L261.10 148.92 L261.40 149.26 L261.70 149.61 L262.00 149.95 L262.30 150.30 L262.60 150.63 L262.90 150.97 L263.20 151.29 L263.50 151.61 L263.80 151.91 L264.10 152.21 L264.40 152.48 L264.70 152.74 L265.00 152.98 L265.30 153.20 L265.60 153.39 L265.90 153.56 L266.20 153.71 L266.50 153.82 L266.80 153.91 L267.10 153.96 L267.40 153.98 L267.40 153.98 L267.70 153.97 L268.00 153.96 L268.30 153.93 L268.60 153.89 L268.90 153.85 L269.20 153.79 L269.50 153.73 L269.80 153.66 L270.10 153.58 L270.40 153.49 L270.70 153.40 L271.00 153.31 L271.30 153.21 L271.60 153.10 L271.90 152.99 L272.20 152.88 L272.50 152.76 L272.80 152.65 L273.10 152.53 L273.40 152.41 L273.70 152.29 L274.00 152.17 L274.30 152.05 L274.60 151.93 L274.90 151.81 L275.20 151.69 L275.50 151.58 L275.80 151.47 L276.10 151.37 L276.40 151.27 L276.70 151.17 L277.00 151.08 L277.30 150.99 L277.60 150.92 L277.90 150.85 L278.20 150.78 L278.50 150.73 L278.80 150.68 L279.10 150.64 L279.40 150.62 L279.70 150.60 L280.00 150.59 L280.00 150.59 L280.30 150.60 L280.60 150.60 L280.90 150.61 L281.20 150.62 L281.50 150.63 L281.80 150.64 L282.10 150.66 L282.40 150.67 L282.70 150.69 L283.00 150.71 L283.30 150.73 L283.60 150.76 L283.90 150.78 L284.20 150.81 L284.50 150.84 L284.80 150.87 L285.10 150.90 L285.40 150.93 L285.70 150.96 L286.00 150.99 L286.30 151.02 L286.60 151.06 L286.90 151.09 L287.20 151.13 L287.50 151.16 L287.80 151.19 L288.10 151.23 L288.40 151.26 L288.70 151.29 L289.00 151.33 L289.30 151.36 L289.60 151.39 L289.90 151.42 L290.20 151.45 L290.50 151.48 L290.80 151.51 L291.10 151.53 L291.40 151.56 L291.70 151.58 L292.00 151.61 L292.30 151.63 L292.60 151.65 L292.90 151.66 L293.20 151.68 L293.50 151.69 L293.80 151.70 L294.10 151.71 L294.40 151.72 L294.70 151.72 L295.00 151.72 L295.00 151.72 L295.30 151.72 L295.60 151.72 L295.90 151.72 L296.20 151.71 L296.50 151.71 L296.80 151.70 L297.10 151.69 L297.40 151.68 L297.70 151.67 L298.00 151.66 L298.30 151.64 L298.60 151.63 L298.90 151.61 L299.20 151.60 L299.50 151.58 L299.80 151.56 L300.10 151.54 L300.40 151.52 L300.70 151.50 L301.00 151.48 L301.30 151.45 L301.60 151.43 L301.90 151.41 L302.20 151.38 L302.50 151.36 L302.80 151.33 L303.10 151.31 L303.40 151.28 L303.70 151.25 L304.00 151.22 L304.30 151.19 L304.60 151.17 L304.90 151.14 L305.20 151.11 L305.50 151.08 L305.80 151.05 L306.10 151.02 L306.40 150.99 L306.70 150.96 L307.00 150.93 L307.30 150.90 L307.60 150.87 L307.90 150.84 L308.20 150.81 L308.50 150.78 L308.80 150.75 L309.10 150.72 L309.40 150.69 L309.70 150.66 L310.00 150.63 L310.30 150.60 L310.60 150.57 L310.90 150.54 L311.20 150.51 L311.50 150.48 L311.80 150.46 L312.10 150.43 L312.40 150.41 L312.70 150.38 L313.00 150.35 L313.30 150.33 L313.60 150.31 L313.90 150.28 L314.20 150.26 L314.50 150.24 L314.80 150.22 L315.10 150.20 L315.40 150.18 L315.70 150.16 L316.00 150.15 L316.30 150.13 L316.60 150.12 L316.90 150.10 L317.20 150.09 L317.50 150.08 L317.80 150.07 L318.10 150.06 L318.40 150.05 L318.70 150.04 L319.00 150.04 L319.30 150.03 L319.60 150.03 L319.90 150.03 L320.00 150.03 L320.20 150.03 L320.50 150.04 L320.80 150.05 L321.10 150.07 L321.40 150.10 L321.70 150.13 L322.00 150.17 L322.30 150.21 L322.60 150.26 L322.90 150.31 L323.20 150.36 L323.50 150.42 L323.80 150.48 L324.10 150.54 L324.40 150.61 L324.70 150.68 L325.00 150.75 L325.30 150.82 L325.60 150.89 L325.90 150.97 L326.20 151.04 L326.50 151.12 L326.80 151.20 L327.10 151.27 L327.40 151.35 L327.70 151.42 L328.00 151.50 L328.30 151.57 L328.60 151.64 L328.90 151.71 L329.20 151.78 L329.50 151.84 L329.80 151.90 L330.10 151.96 L330.40 152.01 L330.70 152.06 L331.00 152.11 L331.30 152.15 L331.60 152.19 L331.90 152.22 L332.20 152.24 L332.50 152.26 L332.80 152.28 L333.10 152.29 L333.30 152.29 L333.40 152.29 L333.70 152.29 L334.00 152.28 L334.30 152.28 L334.60 152.28 L334.90 152.27 L335.20 152.27 L335.50 152.26 L335.80 152.26 L336.10 152.25 L336.40 152.24 L336.70 152.23 L337.00 152.22 L337.30 152.21 L337.60 152.20 L337.90 152.18 L338.20 152.17 L338.50 152.15 L338.80 152.14 L339.10 152.12 L339.40 152.10 L339.70 152.08 L340.00 152.06 L340.30 152.04 L340.60 152.02 L340.90 152.00 L341.20 151.97 L341.50 151.95 L341.80 151.92 L342.10 151.89 L342.40 151.87 L342.70 151.84 L343.00 151.81 L343.30 151.78 L343.60 151.74 L343.80 151.72 L343.90 151.71 L344.20 151.62 L344.50 151.48 L344.80 151.29 L345.10 151.06 L345.40 150.79 L345.70 150.50 L346.00 150.19 L346.30 149.86 L346.60 149.53 L346.90 149.20 L347.20 148.88 L347.50 148.58 L347.80 148.30 L348.10 148.05 L348.40 147.83 L348.70 147.67 L349.00 147.55 L349.30 147.50 L349.40 147.49 L349.60 147.51 L349.90 147.59 L350.20 147.72 L350.50 147.91 L350.80 148.14 L351.10 148.40 L351.40 148.70 L351.70 149.01 L352.00 149.34 L352.30 149.68 L352.60 150.01 L352.90 150.34 L353.20 150.64 L353.50 150.93 L353.80 151.18 L354.10 151.39 L354.40 151.56 L354.70 151.67 L355.00 151.72 L355.00 151.72 L355.30 151.74 L355.60 151.76 L355.90 151.77 L356.20 151.79 L356.50 151.80 L356.80 151.82 L357.10 151.83 L357.40 151.85 L357.70 151.86 L358.00 151.87 L358.30 151.88 L358.60 151.89 L358.90 151.90 L359.20 151.91 L359.50 151.92 L359.80 151.93 L360.10 151.94 L360.40 151.95 L360.70 151.96 L361.00 151.96 L361.30 151.97 L361.60 151.97 L361.90 151.98 L362.20 151.98 L362.50 151.99 L362.80 151.99 L363.10 152.00 L363.40 152.00 L363.70 152.00 L364.00 152.00 L364.30 152.00 L364.60 152.00 L364.90 152.00 L365.00 152.01 L365.20 152.00 L365.50 152.00 L365.80 152.00 L366.10 152.00 L366.40 152.00 L366.70 152.00 L367.00 152.00 L367.30 152.00 L367.60 151.99 L367.90 151.99 L368.20 151.99 L368.50 151.98 L368.80 151.98 L369.10 151.97 L369.40 151.97 L369.70 151.96 L370.00 151.96 L370.30 151.95 L370.60 151.95 L370.90 151.94 L371.20 151.93 L371.50 151.93 L371.80 151.92 L372.10 151.91 L372.40 151.90 L372.70 151.89 L373.00 151.88 L373.30 151.88 L373.60 151.87 L373.90 151.86 L374.20 151.85 L374.50 151.84 L374.80 151.82 L375.10 151.81 L375.40 151.80 L375.70 151.79 L376.00 151.78 L376.30 151.77 L376.60 151.75 L376.90 151.74 L377.20 151.73 L377.50 151.71 L377.80 151.70 L378.10 151.68 L378.40 151.67 L378.70 151.65 L379.00 151.64 L379.30 151.62 L379.60 151.60 L379.90 151.59 L380.00 151.58 L380.20 151.57 L380.50 151.53 L380.80 151.48 L381.10 151.41 L381.40 151.33 L381.70 151.24 L382.00 151.14 L382.30 151.03 L382.60 150.92 L382.90 150.80 L383.20 150.68 L383.50 150.55 L383.80 150.42 L384.10 150.29 L384.40 150.17 L384.70 150.05 L385.00 149.93 L385.30 149.82 L385.60 149.71 L385.90 149.62 L386.20 149.54 L386.50 149.46 L386.80 149.41 L387.10 149.36 L387.40 149.34 L387.70 149.33 L387.70 149.33 L388.00 149.34 L388.30 149.37 L388.60 149.41 L388.90 149.47 L389.20 149.55 L389.50 149.64 L389.80 149.74 L390.10 149.85 L390.40 149.97 L390.70 150.09 L391.00 150.22 L391.30 150.35 L391.60 150.48 L391.90 150.62 L392.20 150.75 L392.50 150.87 L392.80 151.00 L393.10 151.11 L393.40 151.22 L393.70 151.32 L394.00 151.40 L394.30 151.47 L394.60 151.53 L394.90 151.57 L395.00 151.58 L395.20 151.60 L395.50 151.63 L395.80 151.65 L396.10 151.68 L396.40 151.70 L396.70 151.72 L397.00 151.75 L397.30 151.77 L397.60 151.79 L397.90 151.82 L398.20 151.84 L398.50 151.86 L398.80 151.88 L399.10 151.90 L399.40 151.92 L399.70 151.94 L400.00 151.96 L400.30 151.98 L400.60 152.00 L400.90 152.02 L401.20 152.04 L401.50 152.06 L401.80 152.07 L402.10 152.09 L402.40 152.11 L402.70 152.12 L403.00 152.14 L403.30 152.16 L403.60 152.17 L403.90 152.19 L404.20 152.20 L404.50 152.21 L404.80 152.23 L405.10 152.24 L405.40 152.25 L405.70 152.26 L406.00 152.28 L406.30 152.29 L406.60 152.30 L406.90 152.31 L407.20 152.32 L407.50 152.33 L407.80 152.34 L408.10 152.34 L408.40 152.35 L408.70 152.36 L409.00 152.37 L409.30 152.37 L409.60 152.38 L409.90 152.39 L410.20 152.39 L410.50 152.40 L410.80 152.40 L411.10 152.41 L411.40 152.41 L411.70 152.42 L412.00 152.42 L412.30 152.42 L412.60 152.42 L412.90 152.43 L413.20 152.43 L413.50 152.43 L413.80 152.43 L414.00 152.43 L414.10 152.43 L414.40 152.43 L414.70 152.42 L415.00 152.41 L415.30 152.40 L415.60 152.39 L415.90 152.38 L416.20 152.36 L416.50 152.35 L416.80 152.33 L417.10 152.31 L417.40 152.28 L417.70 152.26 L418.00 152.23 L418.30 152.20 L418.60 152.18 L418.90 152.15 L419.20 152.11 L419.50 152.08 L419.80 152.05 L420.10 152.01 L420.40 151.98 L420.70 151.94 L421.00 151.91 L421.30 151.87 L421.60 151.83 L421.90 151.79 L422.20 151.76 L422.50 151.72 L422.80 151.68 L423.10 151.64 L423.40 151.60 L423.70 151.56 L424.00 151.52 L424.30 151.49 L424.60 151.45 L424.90 151.41 L425.20 151.37 L425.50 151.34 L425.80 151.30 L426.10 151.27 L426.40 151.23 L426.70 151.20 L427.00 151.17 L427.30 151.14 L427.60 151.11 L427.90 151.08 L428.20 151.06 L428.50 151.03 L428.80 151.01 L429.10 150.98 L429.40 150.96 L429.70 150.95 L430.00 150.93 L430.30 150.92 L430.60 150.90 L430.90 150.89 L431.20 150.89 L431.50 150.88 L431.80 150.88 L432.00 150.88 L432.10 150.88 L432.40 150.88 L432.70 150.88 L433.00 150.89 L433.30 150.89 L433.60 150.90 L433.90 150.91 L434.20 150.93 L434.50 150.94 L434.80 150.95 L435.10 150.97 L435.40 150.99 L435.70 151.01 L436.00 151.03 L436.30 151.05 L436.60 151.07 L436.90 151.09 L437.20 151.12 L437.50 151.14 L437.80 151.17 L438.10 151.19 L438.40 151.22 L438.70 151.25 L439.00 151.28 L439.30 151.31 L439.60 151.34 L439.90 151.37 L440.20 151.40 L440.50 151.43 L440.80 151.46 L441.10 151.49 L441.40 151.52 L441.70 151.55 L442.00 151.58 L442.30 151.61 L442.60 151.64 L442.90 151.67 L443.20 151.70 L443.50 151.73 L443.80 151.76 L444.10 151.78 L444.40 151.81 L444.70 151.84 L445.00 151.86 L445.30 151.89 L445.60 151.91 L445.90 151.94 L446.20 151.96 L446.50 151.98 L446.80 152.00 L447.10 152.02 L447.40 152.04 L447.70 152.06 L448.00 152.07 L448.30 152.09 L448.60 152.10 L448.90 152.11 L449.20 152.12 L449.50 152.13 L449.80 152.14 L450.10 152.14 L450.40 152.15 L450.70 152.15 L450.70 152.15 L451.00 152.15 L451.30 152.14 L451.60 152.14 L451.90 152.13 L452.20 152.13 L452.50 152.12 L452.80 152.11 L453.10 152.10 L453.40 152.09 L453.70 152.07 L454.00 152.06 L454.30 152.04 L454.60 152.03 L454.90 152.01 L455.20 151.99 L455.50 151.97 L455.80 151.95 L456.10 151.93 L456.40 151.91 L456.70 151.89 L457.00 151.86 L457.30 151.84 L457.60 151.82 L457.90 151.79 L458.20 151.77 L458.50 151.74 L458.80 151.72 L459.10 151.69 L459.40 151.67 L459.70 151.64 L460.00 151.61 L460.30 151.59 L460.60 151.56 L460.90 151.53 L461.20 151.51 L461.50 151.48 L461.80 151.46 L462.10 151.43 L462.40 151.40 L462.70 151.38 L463.00 151.36 L463.30 151.33 L463.60 151.31 L463.90 151.28 L464.20 151.26 L464.50 151.24 L464.80 151.22 L465.10 151.20 L465.40 151.18 L465.70 151.16 L466.00 151.14 L466.30 151.13 L466.60 151.11 L466.90 151.10 L467.20 151.08 L467.50 151.07 L467.80 151.06 L468.10 151.05 L468.40 151.04 L468.70 151.03 L469.00 151.03 L469.30 151.02 L469.60 151.02 L469.90 151.02 L470.00 151.02 L470.20 151.02 L470.50 151.02 L470.80 151.02 L471.10 151.02 L471.40 151.03 L471.70 151.03 L472.00 151.03 L472.30 151.04 L472.60 151.04 L472.90 151.05 L473.20 151.06 L473.50 151.06 L473.80 151.07 L474.10 151.08 L474.40 151.09 L474.70 151.10 L475.00 151.11 L475.30 151.12 L475.60 151.13 L475.90 151.14 L476.20 151.15 L476.50 151.16 L476.80 151.17 L477.10 151.18 L477.40 151.19 L477.70 151.20 L478.00 151.22 L478.30 151.23 L478.60 151.24 L478.90 151.25 L479.20 151.27 L479.50 151.28 L479.80 151.29 L480.10 151.30 L480.40 151.32 L480.70 151.33 L481.00 151.34 L481.30 151.35 L481.60 151.37 L481.90 151.38 L482.20 151.39 L482.50 151.40 L482.80 151.42 L483.10 151.43 L483.40 151.44 L483.70 151.45 L484.00 151.46 L484.30 151.47 L484.60 151.48 L484.90 151.49 L485.20 151.50 L485.50 151.51 L485.80 151.52 L486.10 151.53 L486.40 151.53 L486.70 151.54 L487.00 151.55 L487.30 151.55 L487.60 151.56 L487.90 151.56 L488.20 151.57 L488.50 151.57 L488.80 151.58 L489.10 151.58 L489.40 151.58 L489.70 151.58 L490.00 151.58 L490.00 151.58 L490.30 151.58 L490.60 151.58 L490.90 151.58 L491.20 151.58 L491.50 151.57 L491.80 151.57 L492.10 151.56 L492.40 151.56 L492.70 151.55 L493.00 151.55 L493.30 151.54 L493.60 151.53 L493.90 151.53 L494.20 151.52 L494.50 151.51 L494.80 151.50 L495.10 151.49 L495.40 151.48 L495.70 151.47 L496.00 151.46 L496.30 151.45 L496.60 151.44 L496.90 151.43 L497.20 151.42 L497.50 151.40 L497.80 151.39 L498.10 151.38 L498.40 151.37 L498.70 151.35 L499.00 151.34 L499.30 151.33 L499.60 151.32 L499.90 151.30 L500.20 151.29 L500.50 151.28 L500.80 151.27 L501.10 151.25 L501.40 151.24 L501.70 151.23 L502.00 151.22 L502.30 151.20 L502.60 151.19 L502.90 151.18 L503.20 151.17 L503.50 151.16 L503.80 151.15 L504.10 151.14 L504.40 151.13 L504.70 151.12 L505.00 151.11 L505.30 151.10 L505.60 151.09 L505.90 151.08 L506.20 151.07 L506.50 151.06 L506.80 151.06 L507.10 151.05 L507.40 151.04 L507.70 151.04 L508.00 151.03 L508.30 151.03 L508.60 151.03 L508.90 151.02 L509.20 151.02 L509.50 151.02 L509.80 151.02 L510.00 151.02 L510.10 151.02 L510.40 151.02 L510.70 151.02 L511.00 151.02 L511.30 151.02 L511.60 151.02 L511.90 151.02 L512.20 151.02 L512.50 151.02 L512.80 151.02 L513.10 151.02 L513.40 151.02 L513.70 151.02 L514.00 151.02 L514.30 151.02 L514.60 151.02 L514.90 151.02 L515.20 151.02 L515.50 151.02 L515.80 151.02 L516.10 151.02 L516.40 151.02 L516.70 151.02 L517.00 151.03 L517.30 151.03 L517.60 151.03 L517.90 151.03 L518.20 151.03 L518.50 151.03 L518.80 151.03 L519.10 151.03 L519.40 151.04 L519.70 151.04 L520.00 151.04 L520.30 151.04 L520.60 151.04 L520.90 151.04 L521.20 151.05 L521.50 151.05 L521.80 151.05 L522.10 151.05 L522.40 151.06 L522.70 151.06 L523.00 151.06 L523.30 151.07 L523.60 151.07 L523.90 151.07 L524.20 151.07 L524.50 151.08 L524.80 151.08 L525.10 151.09 L525.40 151.09 L525.70 151.09 L526.00 151.10 L526.30 151.10 L526.60 151.11 L526.90 151.11 L527.20 151.12 L527.50 151.12 L527.80 151.13 L528.10 151.13 L528.40 151.14 L528.70 151.14 L529.00 151.15 L529.30 151.16 L529.60 151.16 L529.90 151.17 L530.20 151.18 L530.50 151.18 L530.80 151.19 L531.10 151.20 L531.40 151.20 L531.70 151.21 L532.00 151.22 L532.30 151.23 L532.60 151.24 L532.90 151.24 L533.20 151.25 L533.50 151.26 L533.80 151.27 L534.10 151.28 L534.40 151.29 L534.70 151.30 L534.70 151.30"/>
<path stroke="#EDB120" d="M78.20 151.30 L154.00 151.30 L154.10 151.30 L154.40 151.25 L154.70 151.15 L155.00 151.02 L155.30 150.86 L155.60 150.69 L155.90 150.51 L156.00 150.45 L156.20 150.33 L156.50 150.09 L156.80 149.81 L157.10 149.48 L157.40 149.11 L157.70 148.70 L158.00 148.27 L158.30 147.81 L158.60 147.33 L158.90 146.84 L159.20 146.34 L159.50 145.84 L159.80 145.33 L160.10 144.84 L160.40 144.35 L160.70 143.88 L161.00 143.43 L161.30 143.00 L161.60 142.61 L161.90 142.25 L162.20 141.94 L162.50 141.67 L162.80 141.45 L163.10 141.28 L163.40 141.18 L163.70 141.15 L163.70 141.15 L164.00 141.23 L164.30 141.48 L164.60 141.87 L164.90 142.40 L165.20 143.04 L165.50 143.79 L165.80 144.62 L166.10 145.52 L166.40 146.49 L166.70 147.49 L167.00 148.52 L167.30 149.57 L167.60 150.61 L167.80 151.30 L167.90 151.67 L168.20 153.04 L168.50 154.76 L168.80 156.73 L169.10 158.85 L169.40 161.02 L169.70 163.15 L170.00 165.15 L170.30 166.92 L170.60 168.36 L170.90 169.38 L171.20 169.88 L171.30 169.91 L171.50 169.86 L171.80 169.60 L172.10 169.12 L172.40 168.46 L172.70 167.61 L173.00 166.61 L173.30 165.47 L173.60 164.19 L173.90 162.81 L174.20 161.34 L174.50 159.78 L174.80 158.17 L175.10 156.51 L175.40 154.83 L175.70 153.13 L176.00 151.44 L176.30 149.77 L176.60 148.14 L176.90 146.57 L177.20 145.06 L177.50 143.65 L177.80 142.34 L178.10 141.15 L178.40 140.10 L178.70 139.20 L179.00 138.47 L179.30 137.93 L179.60 137.60 L179.90 137.48 L179.90 137.48 L180.20 137.59 L180.50 137.91 L180.80 138.42 L181.10 139.11 L181.40 139.95 L181.70 140.93 L182.00 142.04 L182.30 143.24 L182.60 144.54 L182.90 145.90 L183.20 147.32 L183.50 148.77 L183.80 150.24 L184.10 151.71 L184.40 153.16 L184.70 154.58 L185.00 155.95 L185.30 157.24 L185.60 158.45 L185.90 159.55 L186.20 160.53 L186.50 161.38 L186.80 162.06 L187.10 162.57 L187.40 162.89 L187.70 163.00 L187.70 163.00 L188.00 162.94 L188.30 162.75 L188.60 162.45 L188.90 162.06 L189.20 161.57 L189.50 161.00 L189.80 160.37 L190.10 159.68 L190.40 158.95 L190.70 158.18 L191.00 157.39 L191.30 156.58 L191.60 155.77 L191.90 154.98 L192.20 154.20 L192.50 153.45 L192.80 152.75 L193.10 152.09 L193.40 151.50 L193.70 150.99 L194.00 150.56 L194.30 150.23 L194.60 150.00 L194.90 149.90 L195.00 149.89 L195.20 149.90 L195.50 149.95 L195.80 150.04 L196.10 150.15 L196.40 150.29 L196.70 150.46 L197.00 150.63 L197.30 150.82 L197.60 151.01 L197.90 151.20 L198.20 151.38 L198.50 151.55 L198.80 151.70 L199.10 151.82 L199.40 151.92 L199.70 151.98 L200.00 152.01 L200.00 152.01 L200.30 151.98 L200.60 151.92 L200.90 151.81 L201.20 151.66 L201.50 151.48 L201.80 151.27 L202.10 151.03 L202.40 150.77 L202.70 150.48 L203.00 150.18 L203.30 149.85 L203.60 149.52 L203.90 149.17 L204.20 148.82 L204.50 148.47 L204.80 148.11 L205.10 147.76 L205.40 147.41 L205.70 147.08 L206.00 146.75 L206.30 146.44 L206.60 146.14 L206.90 145.87 L207.20 145.62 L207.50 145.40 L207.80 145.21 L208.10 145.06 L208.40 144.94 L208.70 144.85 L209.00 144.82 L209.10 144.81 L209.30 144.82 L209.60 144.86 L209.90 144.94 L210.20 145.05 L210.50 145.19 L210.80 145.36 L211.10 145.55 L211.40 145.78 L211.70 146.03 L212.00 146.30 L212.30 146.60 L212.60 146.91 L212.90 147.25 L213.20 147.60 L213.50 147.97 L213.80 148.35 L214.10 148.75 L214.40 149.16 L214.70 149.58 L215.00 150.00 L215.30 150.44 L215.60 150.88 L215.90 151.32 L216.20 151.77 L216.50 152.22 L216.80 152.67 L217.10 153.12 L217.40 153.56 L217.70 154.00 L218.00 154.43 L218.30 154.86 L218.60 155.27 L218.90 155.68 L219.20 156.07 L219.50 156.45 L219.80 156.81 L220.10 157.16 L220.40 157.49 L220.70 157.80 L221.00 158.08 L221.30 158.35 L221.60 158.59 L221.90 158.81 L222.20 158.99 L222.50 159.15 L222.80 159.28 L223.10 159.38 L223.40 159.45 L223.70 159.48 L223.80 159.48 L224.00 159.46 L224.30 159.40 L224.60 159.27 L224.90 159.09 L225.20 158.86 L225.50 158.59 L225.80 158.27 L226.10 157.90 L226.40 157.50 L226.70 157.06 L227.00 156.59 L227.30 156.09 L227.60 155.56 L227.90 155.01 L228.20 154.43 L228.50 153.84 L228.80 153.22 L229.10 152.60 L229.40 151.97 L229.70 151.32 L230.00 150.68 L230.30 150.03 L230.60 149.38 L230.90 148.73 L231.20 148.10 L231.50 147.47 L231.80 146.85 L232.10 146.25 L232.40 145.67 L232.70 145.11 L233.00 144.57 L233.30 144.06 L233.60 143.58 L233.90 143.13 L234.20 142.71 L234.50 142.34 L234.80 142.00 L235.10 141.71 L235.40 141.46 L235.70 141.27 L236.00 141.12 L236.30 141.04 L236.60 141.01 L236.60 141.01 L236.90 141.03 L237.20 141.09 L237.50 141.19 L237.80 141.32 L238.10 141.49 L238.40 141.69 L238.70 141.93 L239.00 142.19 L239.30 142.48 L239.60 142.80 L239.90 143.15 L240.20 143.51 L240.50 143.90 L240.80 144.31 L241.10 144.73 L241.40 145.17 L241.70 145.63 L242.00 146.09 L242.30 146.57 L242.60 147.06 L242.90 147.56 L243.20 148.06 L243.50 148.56 L243.80 149.07 L244.10 149.58 L244.40 150.09 L244.70 150.59 L245.00 151.10 L245.30 151.59 L245.60 152.08 L245.90 152.56 L246.20 153.03 L246.50 153.48 L246.80 153.92 L247.10 154.35 L247.40 154.75 L247.70 155.14 L248.00 155.51 L248.30 155.85 L248.60 156.17 L248.90 156.46 L249.20 156.72 L249.50 156.96 L249.80 157.16 L250.10 157.33 L250.40 157.47 L250.70 157.56 L251.00 157.62 L251.30 157.65 L251.30 157.65 L251.60 157.63 L251.90 157.57 L252.20 157.48 L252.50 157.36 L252.80 157.20 L253.10 157.02 L253.40 156.81 L253.70 156.58 L254.00 156.32 L254.30 156.05 L254.60 155.76 L254.90 155.45 L255.20 155.13 L255.50 154.80 L255.80 154.46 L256.10 154.11 L256.40 153.76 L256.70 153.40 L257.00 153.05 L257.30 152.70 L257.60 152.35 L257.90 152.00 L258.20 151.67 L258.50 151.34 L258.80 151.03 L259.10 150.74 L259.40 150.46 L259.70 150.19 L260.00 149.95 L260.30 149.74 L260.60 149.55 L260.90 149.38 L261.20 149.25 L261.50 149.15 L261.80 149.08 L262.10 149.05 L262.20 149.04 L262.40 149.05 L262.70 149.06 L263.00 149.08 L263.30 149.11 L263.60 149.15 L263.90 149.20 L264.20 149.25 L264.50 149.32 L264.80 149.39 L265.10 149.46 L265.40 149.54 L265.70 149.63 L266.00 149.72 L266.30 149.82 L266.60 149.92 L266.90 150.03 L267.20 150.14 L267.50 150.25 L267.80 150.37 L268.10 150.48 L268.40 150.60 L268.70 150.72 L269.00 150.84 L269.30 150.96 L269.60 151.08 L269.90 151.19 L270.20 151.31 L270.50 151.43 L270.80 151.54 L271.10 151.65 L271.40 151.76 L271.70 151.86 L272.00 151.96 L272.30 152.06 L272.60 152.15 L272.90 152.24 L273.20 152.32 L273.50 152.39 L273.80 152.46 L274.10 152.52 L274.40 152.57 L274.70 152.62 L275.00 152.66 L275.30 152.68 L275.60 152.70 L275.90 152.71 L276.00 152.71 L276.20 152.71 L276.50 152.69 L276.80 152.67 L277.10 152.63 L277.40 152.58 L277.70 152.52 L278.00 152.46 L278.30 152.38 L278.60 152.30 L278.90 152.20 L279.20 152.11 L279.50 152.00 L279.80 151.89 L280.10 151.77 L280.40 151.65 L280.70 151.52 L281.00 151.39 L281.30 151.26 L281.60 151.13 L281.90 150.99 L282.20 150.85 L282.50 150.71 L282.80 150.57 L283.10 150.43 L283.40 150.30 L283.70 150.16 L284.00 150.02 L284.30 149.89 L284.60 149.76 L284.90 149.64 L285.20 149.52 L285.50 149.40 L285.80 149.30 L286.10 149.19 L286.40 149.09 L286.70 149.01 L287.00 148.92 L287.30 148.85 L287.60 148.79 L287.90 148.73 L288.20 148.69 L288.50 148.65 L288.80 148.63 L289.10 148.62 L289.20 148.62 L289.40 148.62 L289.70 148.63 L290.00 148.66 L290.30 148.69 L290.60 148.73 L290.90 148.77 L291.20 148.83 L291.50 148.89 L291.80 148.96 L292.10 149.03 L292.40 149.11 L292.70 149.20 L293.00 149.29 L293.30 149.39 L293.60 149.49 L293.90 149.59 L294.20 149.70 L294.50 149.80 L294.80 149.92 L295.10 150.03 L295.40 150.14 L295.70 150.26 L296.00 150.37 L296.30 150.48 L296.60 150.60 L296.90 150.71 L297.20 150.82 L297.50 150.93 L297.80 151.04 L298.10 151.14 L298.40 151.24 L298.70 151.33 L299.00 151.43 L299.30 151.51 L299.60 151.59 L299.90 151.67 L300.20 151.74 L300.50 151.80 L300.80 151.85 L301.10 151.90 L301.40 151.94 L301.70 151.97 L302.00 151.99 L302.30 152.00 L302.50 152.01 L302.60 152.00 L302.90 152.00 L303.20 151.99 L303.50 151.98 L303.80 151.97 L304.10 151.95 L304.40 151.93 L304.70 151.91 L305.00 151.89 L305.30 151.86 L305.60 151.83 L305.90 151.80 L306.20 151.77 L306.50 151.73 L306.80 151.70 L307.10 151.66 L307.40 151.62 L307.70 151.58 L308.00 151.54 L308.30 151.50 L308.60 151.46 L308.90 151.42 L309.20 151.38 L309.50 151.34 L309.80 151.30 L310.10 151.26 L310.40 151.22 L310.70 151.19 L311.00 151.15 L311.30 151.11 L311.60 151.08 L311.90 151.05 L312.20 151.02 L312.50 150.99 L312.80 150.97 L313.10 150.95 L313.40 150.93 L313.70 150.91 L314.00 150.90 L314.30 150.89 L314.60 150.88 L314.90 150.88 L315.00 150.88 L315.20 150.88 L315.50 150.88 L315.80 150.89 L316.10 150.89 L316.40 150.90 L316.70 150.92 L317.00 150.93 L317.30 150.95 L317.60 150.96 L317.90 150.98 L318.20 151.01 L318.50 151.03 L318.80 151.05 L319.10 151.08 L319.40 151.10 L319.70 151.13 L320.00 151.16 L320.30 151.18 L320.60 151.21 L320.90 151.24 L321.20 151.27 L321.50 151.30 L321.80 151.33 L322.10 151.36 L322.40 151.39 L322.70 151.42 L323.00 151.44 L323.30 151.47 L323.60 151.50 L323.90 151.52 L324.20 151.55 L324.50 151.57 L324.80 151.59 L325.10 151.62 L325.40 151.64 L325.70 151.65 L326.00 151.67 L326.30 151.68 L326.60 151.70 L326.90 151.71 L327.20 151.71 L327.50 151.72 L327.80 151.72 L328.00 151.72 L328.10 151.72 L328.40 151.72 L328.70 151.70 L329.00 151.69 L329.30 151.66 L329.60 151.63 L329.90 151.59 L330.20 151.55 L330.50 151.50 L330.80 151.45 L331.10 151.40 L331.40 151.34 L331.70 151.28 L332.00 151.21 L332.30 151.15 L332.60 151.08 L332.90 151.00 L333.20 150.93 L333.50 150.85 L333.80 150.78 L334.10 150.70 L334.40 150.62 L334.70 150.54 L335.00 150.47 L335.30 150.39 L335.60 150.31 L335.90 150.24 L336.20 150.16 L336.50 150.09 L336.80 150.02 L337.10 149.95 L337.40 149.89 L337.70 149.83 L338.00 149.77 L338.30 149.72 L338.60 149.67 L338.90 149.62 L339.20 149.58 L339.50 149.55 L339.80 149.52 L340.10 149.50 L340.40 149.48 L340.70 149.47 L341.00 149.47 L341.00 149.47 L341.30 149.47 L341.60 149.48 L341.90 149.49 L342.20 149.50 L342.50 149.52 L342.80 149.54 L343.10 149.56 L343.40 149.59 L343.70 149.62 L344.00 149.66 L344.30 149.70 L344.60 149.74 L344.90 149.78 L345.20 149.83 L345.50 149.88 L345.80 149.93 L346.10 149.99 L346.40 150.04 L346.70 150.10 L347.00 150.16 L347.30 150.22 L347.60 150.29 L347.90 150.36 L348.20 150.42 L348.50 150.49 L348.80 150.56 L349.10 150.64 L349.40 150.71 L349.70 150.78 L350.00 150.86 L350.30 150.93 L350.60 151.01 L350.90 151.09 L351.20 151.16 L351.50 151.24 L351.80 151.32 L352.10 151.40 L352.40 151.47 L352.70 151.55 L353.00 151.63 L353.30 151.71 L353.60 151.78 L353.90 151.86 L354.20 151.93 L354.50 152.01 L354.80 152.08 L355.10 152.15 L355.40 152.22 L355.70 152.29 L356.00 152.36 L356.30 152.43 L356.60 152.49 L356.90 152.56 L357.20 152.62 L357.50 152.68 L357.80 152.74 L358.10 152.79 L358.40 152.84 L358.70 152.89 L359.00 152.94 L359.30 152.99 L359.60 153.03 L359.90 153.07 L360.20 153.10 L360.50 153.14 L360.80 153.17 L361.10 153.19 L361.40 153.22 L361.70 153.24 L362.00 153.25 L362.30 153.26 L362.60 153.27 L362.90 153.27 L363.00 153.27 L363.20 153.27 L363.50 153.26 L363.80 153.23 L364.10 153.20 L364.40 153.16 L364.70 153.10 L365.00 153.04 L365.30 152.97 L365.60 152.89 L365.90 152.81 L366.20 152.71 L366.50 152.61 L366.80 152.51 L367.10 152.39 L367.40 152.27 L367.70 152.15 L368.00 152.02 L368.30 151.89 L368.60 151.76 L368.90 151.62 L369.20 151.48 L369.50 151.33 L369.80 151.19 L370.10 151.04 L370.40 150.89 L370.70 150.74 L371.00 150.59 L371.30 150.44 L371.60 150.29 L371.90 150.15 L372.20 150.00 L372.50 149.86 L372.80 149.71 L373.10 149.57 L373.40 149.44 L373.70 149.31 L374.00 149.18 L374.30 149.06 L374.60 148.94 L374.90 148.83 L375.20 148.72 L375.50 148.62 L375.80 148.53 L376.10 148.44 L376.40 148.36 L376.70 148.29 L377.00 148.23 L377.30 148.17 L377.60 148.13 L377.90 148.10 L378.20 148.07 L378.50 148.06 L378.70 148.06 L378.80 148.06 L379.10 148.06 L379.40 148.07 L379.70 148.09 L380.00 148.12 L380.30 148.14 L380.60 148.18 L380.90 148.22 L381.20 148.26 L381.50 148.31 L381.80 148.37 L382.10 148.43 L382.40 148.49 L382.70 148.56 L383.00 148.63 L383.30 148.70 L383.60 148.78 L383.90 148.86 L384.20 148.95 L384.50 149.03 L384.80 149.12 L385.10 149.22 L385.40 149.31 L385.70 149.41 L386.00 149.51 L386.30 149.60 L386.60 149.71 L386.90 149.81 L387.20 149.91 L387.50 150.02 L387.80 150.12 L388.10 150.23 L388.40 150.33 L388.70 150.44 L389.00 150.54 L389.30 150.65 L389.60 150.75 L389.90 150.85 L390.20 150.95 L390.50 151.05 L390.80 151.15 L391.10 151.25 L391.40 151.35 L391.70 151.44 L392.00 151.53 L392.30 151.62 L392.60 151.71 L392.90 151.79 L393.20 151.87 L393.50 151.95 L393.80 152.02 L394.10 152.09 L394.40 152.16 L394.70 152.22 L395.00 152.28 L395.30 152.33 L395.60 152.38 L395.90 152.42 L396.20 152.46 L396.50 152.49 L396.80 152.52 L397.10 152.54 L397.40 152.56 L397.70 152.57 L398.00 152.57 L398.00 152.57 L398.30 152.57 L398.60 152.57 L398.90 152.56 L399.20 152.56 L399.50 152.55 L399.80 152.54 L400.10 152.54 L400.40 152.53 L400.70 152.51 L401.00 152.50 L401.30 152.49 L401.60 152.47 L401.90 152.46 L402.20 152.44 L402.50 152.42 L402.80 152.40 L403.10 152.38 L403.40 152.36 L403.70 152.34 L404.00 152.32 L404.30 152.30 L404.60 152.27 L404.90 152.25 L405.20 152.22 L405.50 152.20 L405.80 152.17 L406.10 152.14 L406.40 152.11 L406.70 152.08 L407.00 152.05 L407.30 152.02 L407.60 151.99 L407.90 151.96 L408.20 151.93 L408.50 151.90 L408.80 151.87 L409.10 151.84 L409.40 151.80 L409.70 151.77 L410.00 151.74 L410.30 151.70 L410.60 151.67 L410.90 151.64 L411.20 151.60 L411.50 151.57 L411.80 151.53 L412.10 151.50 L412.40 151.47 L412.70 151.43 L413.00 151.40 L413.30 151.36 L413.60 151.33 L413.90 151.30 L414.20 151.26 L414.50 151.23 L414.80 151.20 L415.10 151.17 L415.40 151.13 L415.70 151.10 L416.00 151.07 L416.30 151.04 L416.60 151.01 L416.90 150.98 L417.20 150.95 L417.50 150.92 L417.80 150.89 L418.10 150.86 L418.40 150.84 L418.70 150.81 L419.00 150.78 L419.30 150.76 L419.60 150.73 L419.90 150.71 L420.20 150.69 L420.50 150.67 L420.80 150.65 L421.10 150.63 L421.40 150.61 L421.70 150.59 L422.00 150.57 L422.30 150.56 L422.60 150.54 L422.90 150.53 L423.20 150.51 L423.50 150.50 L423.80 150.49 L424.10 150.48 L424.40 150.47 L424.70 150.47 L425.00 150.46 L425.30 150.46 L425.60 150.46 L425.90 150.45 L426.00 150.45 L426.20 150.45 L426.50 150.46 L426.80 150.47 L427.10 150.48 L427.40 150.49 L427.70 150.51 L428.00 150.52 L428.30 150.55 L428.60 150.57 L428.90 150.59 L429.20 150.62 L429.50 150.65 L429.80 150.68 L430.10 150.72 L430.40 150.75 L430.70 150.79 L431.00 150.82 L431.30 150.86 L431.60 150.90 L431.90 150.94 L432.20 150.98 L432.50 151.02 L432.80 151.06 L433.10 151.10 L433.40 151.14 L433.70 151.18 L434.00 151.22 L434.30 151.26 L434.60 151.30 L434.90 151.34 L435.20 151.38 L435.50 151.41 L435.80 151.45 L436.10 151.48 L436.40 151.51 L436.70 151.54 L437.00 151.57 L437.30 151.60 L437.60 151.62 L437.90 151.65 L438.20 151.67 L438.50 151.68 L438.80 151.70 L439.10 151.71 L439.40 151.72 L439.70 151.72 L440.00 151.72 L440.00 151.72 L440.30 151.72 L440.60 151.72 L440.90 151.71 L441.20 151.71 L441.50 151.70 L441.80 151.69 L442.10 151.68 L442.40 151.66 L442.70 151.65 L443.00 151.64 L443.30 151.62 L443.60 151.60 L443.90 151.58 L444.20 151.56 L444.50 151.54 L444.80 151.52 L445.10 151.50 L445.40 151.47 L445.70 151.45 L446.00 151.43 L446.30 151.40 L446.60 151.38 L446.90 151.35 L447.20 151.33 L447.50 151.30 L447.80 151.27 L448.10 151.25 L448.40 151.22 L448.70 151.20 L449.00 151.17 L449.30 151.15 L449.60 151.13 L449.90 151.10 L450.20 151.08 L450.50 151.06 L450.80 151.04 L451.10 151.02 L451.40 151.00 L451.70 150.98 L452.00 150.96 L452.30 150.95 L452.60 150.94 L452.90 150.92 L453.20 150.91 L453.50 150.90 L453.80 150.89 L454.10 150.89 L454.40 150.88 L454.70 150.88 L455.00 150.88 L455.00 150.88 L455.30 150.88 L455.60 150.88 L455.90 150.89 L456.20 150.89 L456.50 150.90 L456.80 150.91 L457.10 150.93 L457.40 150.94 L457.70 150.96 L458.00 150.97 L458.30 150.99 L458.60 151.01 L458.90 151.04 L459.20 151.06 L459.50 151.09 L459.80 151.11 L460.10 151.14 L460.40 151.17 L460.70 151.20 L461.00 151.23 L461.30 151.26 L461.60 151.29 L461.90 151.33 L462.20 151.36 L462.50 151.40 L462.80 151.43 L463.10 151.47 L463.40 151.51 L463.70 151.54 L464.00 151.58 L464.30 151.62 L464.60 151.66 L464.90 151.70 L465.20 151.74 L465.50 151.78 L465.80 151.82 L466.10 151.86 L466.40 151.90 L466.70 151.94 L467.00 151.98 L467.30 152.02 L467.60 152.06 L467.90 152.09 L468.20 152.13 L468.50 152.17 L468.80 152.21 L469.10 152.25 L469.40 152.28 L469.70 152.32 L470.00 152.35 L470.30 152.39 L470.60 152.42 L470.90 152.46 L471.20 152.49 L471.50 152.52 L471.80 152.55 L472.10 152.58 L472.40 152.61 L472.70 152.63 L473.00 152.66 L473.30 152.68 L473.60 152.71 L473.90 152.73 L474.20 152.75 L474.50 152.77 L474.80 152.78 L475.10 152.80 L475.40 152.81 L475.70 152.82 L476.00 152.83 L476.30 152.84 L476.60 152.85 L476.90 152.85 L477.20 152.85 L477.30 152.85 L477.50 152.85 L477.80 152.84 L478.10 152.83 L478.40 152.82 L478.70 152.79 L479.00 152.77 L479.30 152.74 L479.60 152.70 L479.90 152.66 L480.20 152.62 L480.50 152.57 L480.80 152.52 L481.10 152.47 L481.40 152.42 L481.70 152.36 L482.00 152.29 L482.30 152.23 L482.60 152.17 L482.90 152.10 L483.20 152.03 L483.50 151.96 L483.80 151.88 L484.10 151.81 L484.40 151.73 L484.70 151.66 L485.00 151.58 L485.30 151.51 L485.60 151.43 L485.90 151.35 L486.20 151.27 L486.50 151.20 L486.80 151.12 L487.10 151.05 L487.40 150.97 L487.70 150.90 L488.00 150.83 L488.30 150.76 L488.60 150.69 L488.90 150.63 L489.20 150.57 L489.50 150.51 L489.80 150.45 L490.10 150.39 L490.40 150.34 L490.70 150.29 L491.00 150.25 L491.30 150.21 L491.60 150.17 L491.90 150.13 L492.20 150.11 L492.50 150.08 L492.80 150.06 L493.10 150.05 L493.40 150.04 L493.70 150.03 L493.80 150.03 L494.00 150.03 L494.30 150.04 L494.60 150.06 L494.90 150.08 L495.20 150.12 L495.50 150.15 L495.80 150.20 L496.10 150.25 L496.40 150.30 L496.70 150.36 L497.00 150.43 L497.30 150.50 L497.60 150.57 L497.90 150.65 L498.20 150.72 L498.50 150.81 L498.80 150.89 L499.10 150.98 L499.40 151.06 L499.70 151.15 L500.00 151.24 L500.30 151.33 L500.60 151.42 L500.90 151.51 L501.20 151.60 L501.50 151.68 L501.80 151.77 L502.10 151.85 L502.40 151.93 L502.70 152.01 L503.00 152.08 L503.30 152.15 L503.60 152.22 L503.90 152.28 L504.20 152.33 L504.50 152.39 L504.80 152.43 L505.10 152.47 L505.40 152.51 L505.70 152.53 L506.00 152.55 L506.30 152.56 L506.60 152.57 L506.60 152.57 L506.90 152.57 L507.20 152.56 L507.50 152.55 L507.80 152.53 L508.10 152.52 L508.40 152.49 L508.70 152.47 L509.00 152.44 L509.30 152.41 L509.60 152.37 L509.90 152.33 L510.20 152.29 L510.50 152.25 L510.80 152.21 L511.10 152.16 L511.40 152.11 L511.70 152.07 L512.00 152.02 L512.30 151.97 L512.60 151.91 L512.90 151.86 L513.20 151.81 L513.50 151.76 L513.80 151.71 L514.10 151.66 L514.40 151.60 L514.70 151.55 L515.00 151.50 L515.30 151.46 L515.60 151.41 L515.90 151.36 L516.20 151.32 L516.50 151.28 L516.80 151.24 L517.10 151.20 L517.40 151.17 L517.70 151.14 L518.00 151.11 L518.30 151.09 L518.60 151.07 L518.90 151.05 L519.20 151.03 L519.50 151.02 L519.80 151.02 L520.00 151.02 L520.10 151.02 L520.40 151.02 L520.70 151.02 L521.00 151.02 L521.30 151.02 L521.60 151.02 L521.90 151.02 L522.20 151.02 L522.50 151.02 L522.80 151.02 L523.10 151.02 L523.40 151.02 L523.70 151.02 L524.00 151.02 L524.30 151.03 L524.60 151.03 L524.90 151.03 L525.20 151.03 L525.50 151.03 L525.80 151.04 L526.10 151.04 L526.40 151.04 L526.70 151.04 L527.00 151.05 L527.30 151.05 L527.60 151.06 L527.90 151.06 L528.20 151.07 L528.50 151.07 L528.80 151.08 L529.10 151.08 L529.40 151.09 L529.70 151.10 L530.00 151.11 L530.30 151.12 L530.60 151.12 L530.90 151.13 L531.20 151.14 L531.50 151.15 L531.80 151.16 L532.10 151.18 L532.40 151.19 L532.70 151.20 L533.00 151.21 L533.30 151.23 L533.60 151.24 L533.90 151.26 L534.20 151.27 L534.50 151.29 L534.70 151.30"/>
<path stroke="#7E2F8E" d="M78.20 151.30 L260.00 151.30 L260.30 151.30 L260.60 151.30 L260.90 151.29 L261.20 151.29 L261.50 151.28 L261.80 151.27 L262.10 151.27 L262.40 151.26 L262.70 151.24 L263.00 151.23 L263.30 151.22 L263.60 151.20 L263.90 151.19 L264.20 151.17 L264.50 151.15 L264.80 151.14 L265.10 151.12 L265.40 151.10 L265.70 151.08 L266.00 151.06 L266.30 151.03 L266.60 151.01 L266.90 150.99 L267.20 150.97 L267.50 150.94 L267.80 150.92 L268.10 150.89 L268.40 150.87 L268.70 150.85 L269.00 150.82 L269.30 150.80 L269.60 150.77 L269.90 150.74 L270.20 150.72 L270.50 150.69 L270.80 150.67 L271.10 150.64 L271.40 150.62 L271.70 150.59 L272.00 150.57 L272.30 150.54 L272.60 150.52 L272.90 150.50 L273.20 150.47 L273.50 150.45 L273.80 150.43 L274.10 150.41 L274.40 150.39 L274.70 150.37 L275.00 150.35 L275.30 150.33 L275.60 150.31 L275.90 150.29 L276.20 150.28 L276.50 150.26 L276.80 150.25 L277.10 150.24 L277.40 150.22 L277.70 150.21 L278.00 150.20 L278.30 150.20 L278.60 150.19 L278.90 150.18 L279.20 150.18 L279.50 150.17 L279.80 150.17 L280.00 150.17 L280.10 150.17 L280.40 150.18 L280.70 150.18 L281.00 150.19 L281.30 150.21 L281.60 150.23 L281.90 150.25 L282.20 150.27 L282.50 150.30 L282.80 150.33 L283.10 150.36 L283.40 150.39 L283.70 150.43 L284.00 150.47 L284.30 150.51 L284.60 150.55 L284.90 150.60 L285.20 150.64 L285.50 150.69 L285.80 150.74 L286.10 150.78 L286.40 150.83 L286.70 150.88 L287.00 150.93 L287.30 150.98 L287.60 151.03 L287.90 151.09 L288.20 151.14 L288.50 151.19 L288.80 151.24 L289.10 151.28 L289.40 151.33 L289.70 151.38 L290.00 151.43 L290.30 151.47 L290.60 151.51 L290.90 151.55 L291.20 151.59 L291.50 151.63 L291.80 151.67 L292.10 151.70 L292.40 151.73 L292.70 151.76 L293.00 151.78 L293.30 151.80 L293.60 151.82 L293.90 151.84 L294.20 151.85 L294.50 151.86 L294.80 151.86 L295.00 151.86 L295.10 151.86 L295.40 151.86 L295.70 151.86 L296.00 151.86 L296.30 151.85 L296.60 151.84 L296.90 151.84 L297.20 151.83 L297.50 151.82 L297.80 151.81 L298.10 151.79 L298.40 151.78 L298.70 151.77 L299.00 151.75 L299.30 151.73 L299.60 151.72 L299.90 151.70 L300.20 151.68 L300.50 151.66 L300.80 151.64 L301.10 151.62 L301.40 151.60 L301.70 151.57 L302.00 151.55 L302.30 151.53 L302.60 151.50 L302.90 151.48 L303.20 151.45 L303.50 151.43 L303.80 151.40 L304.10 151.38 L304.40 151.35 L304.70 151.32 L305.00 151.30 L305.30 151.27 L305.60 151.24 L305.90 151.21 L306.20 151.19 L306.50 151.16 L306.80 151.13 L307.10 151.10 L307.40 151.08 L307.70 151.05 L308.00 151.02 L308.30 150.99 L308.60 150.97 L308.90 150.94 L309.20 150.92 L309.50 150.89 L309.80 150.86 L310.10 150.84 L310.40 150.81 L310.70 150.79 L311.00 150.77 L311.30 150.74 L311.60 150.72 L311.90 150.70 L312.20 150.68 L312.50 150.66 L312.80 150.64 L313.10 150.62 L313.40 150.60 L313.70 150.58 L314.00 150.57 L314.30 150.55 L314.60 150.54 L314.90 150.52 L315.20 150.51 L315.50 150.50 L315.80 150.49 L316.10 150.48 L316.40 150.47 L316.70 150.47 L317.00 150.46 L317.30 150.46 L317.60 150.46 L317.90 150.45 L318.00 150.45 L318.20 150.45 L318.50 150.46 L318.80 150.46 L319.10 150.47 L319.40 150.47 L319.70 150.48 L320.00 150.49 L320.30 150.50 L320.60 150.51 L320.90 150.53 L321.20 150.54 L321.50 150.56 L321.80 150.58 L322.10 150.60 L322.40 150.62 L322.70 150.64 L323.00 150.66 L323.30 150.68 L323.60 150.70 L323.90 150.73 L324.20 150.75 L324.50 150.78 L324.80 150.81 L325.10 150.83 L325.40 150.86 L325.70 150.89 L326.00 150.92 L326.30 150.95 L326.60 150.98 L326.90 151.01 L327.20 151.04 L327.50 151.07 L327.80 151.10 L328.10 151.13 L328.40 151.17 L328.70 151.20 L329.00 151.23 L329.30 151.26 L329.60 151.29 L329.90 151.32 L330.20 151.36 L330.50 151.39 L330.80 151.42 L331.10 151.45 L331.40 151.48 L331.70 151.51 L332.00 151.54 L332.30 151.57 L332.60 151.60 L332.90 151.62 L333.20 151.65 L333.50 151.68 L333.80 151.70 L334.10 151.73 L334.40 151.75 L334.70 151.78 L335.00 151.80 L335.30 151.82 L335.60 151.84 L335.90 151.86 L336.20 151.88 L336.50 151.90 L336.80 151.92 L337.10 151.93 L337.40 151.95 L337.70 151.96 L338.00 151.97 L338.30 151.98 L338.60 151.99 L338.90 151.99 L339.20 152.00 L339.50 152.00 L339.80 152.00 L340.00 152.01 L340.10 152.00 L340.40 152.00 L340.70 152.00 L341.00 151.99 L341.30 151.97 L341.60 151.96 L341.90 151.94 L342.20 151.92 L342.50 151.89 L342.80 151.87 L343.10 151.84 L343.40 151.81 L343.70 151.78 L344.00 151.74 L344.30 151.70 L344.60 151.67 L344.90 151.63 L345.20 151.59 L345.50 151.54 L345.80 151.50 L346.10 151.45 L346.40 151.41 L346.70 151.36 L347.00 151.32 L347.30 151.27 L347.60 151.22 L347.90 151.17 L348.20 151.13 L348.50 151.08 L348.80 151.03 L349.10 150.99 L349.40 150.94 L349.70 150.89 L350.00 150.85 L350.30 150.80 L350.60 150.76 L350.90 150.72 L351.20 150.68 L351.50 150.64 L351.80 150.60 L352.10 150.57 L352.40 150.53 L352.70 150.50 L353.00 150.47 L353.30 150.44 L353.60 150.42 L353.90 150.39 L354.20 150.37 L354.50 150.35 L354.80 150.34 L355.10 150.33 L355.40 150.32 L355.70 150.31 L356.00 150.31 L356.00 150.31 L356.30 150.31 L356.60 150.32 L356.90 150.32 L357.20 150.33 L357.50 150.34 L357.80 150.35 L358.10 150.37 L358.40 150.38 L358.70 150.40 L359.00 150.42 L359.30 150.44 L359.60 150.46 L359.90 150.48 L360.20 150.51 L360.50 150.53 L360.80 150.56 L361.10 150.59 L361.40 150.62 L361.70 150.65 L362.00 150.68 L362.30 150.71 L362.60 150.74 L362.90 150.78 L363.20 150.81 L363.50 150.85 L363.80 150.88 L364.10 150.92 L364.40 150.95 L364.70 150.99 L365.00 151.03 L365.30 151.06 L365.60 151.10 L365.90 151.14 L366.20 151.17 L366.50 151.21 L366.80 151.25 L367.10 151.28 L367.40 151.32 L367.70 151.35 L368.00 151.39 L368.30 151.42 L368.60 151.45 L368.90 151.49 L369.20 151.52 L369.50 151.55 L369.80 151.58 L370.10 151.61 L370.40 151.64 L370.70 151.66 L371.00 151.69 L371.30 151.71 L371.60 151.73 L371.90 151.75 L372.20 151.77 L372.50 151.79 L372.80 151.81 L373.10 151.82 L373.40 151.83 L373.70 151.84 L374.00 151.85 L374.30 151.86 L374.60 151.86 L374.90 151.86 L375.00 151.86 L375.20 151.86 L375.50 151.86 L375.80 151.86 L376.10 151.85 L376.40 151.85 L376.70 151.84 L377.00 151.83 L377.30 151.82 L377.60 151.81 L377.90 151.80 L378.20 151.79 L378.50 151.77 L378.80 151.76 L379.10 151.74 L379.40 151.72 L379.70 151.71 L380.00 151.69 L380.30 151.67 L380.60 151.65 L380.90 151.63 L381.20 151.61 L381.50 151.58 L381.80 151.56 L382.10 151.54 L382.40 151.52 L382.70 151.49 L383.00 151.47 L383.30 151.44 L383.60 151.42 L383.90 151.39 L384.20 151.37 L384.50 151.34 L384.80 151.32 L385.10 151.29 L385.40 151.27 L385.70 151.24 L386.00 151.22 L386.30 151.19 L386.60 151.17 L386.90 151.14 L387.20 151.12 L387.50 151.09 L387.80 151.07 L388.10 151.05 L388.40 151.02 L388.70 151.00 L389.00 150.98 L389.30 150.96 L389.60 150.94 L389.90 150.92 L390.20 150.90 L390.50 150.88 L390.80 150.86 L391.10 150.85 L391.40 150.83 L391.70 150.82 L392.00 150.80 L392.30 150.79 L392.60 150.78 L392.90 150.77 L393.20 150.76 L393.50 150.75 L393.80 150.75 L394.10 150.74 L394.40 150.74 L394.70 150.74 L395.00 150.74 L395.00 150.74 L395.30 150.74 L395.60 150.74 L395.90 150.74 L396.20 150.74 L396.50 150.75 L396.80 150.75 L397.10 150.76 L397.40 150.76 L397.70 150.77 L398.00 150.78 L398.30 150.78 L398.60 150.79 L398.90 150.80 L399.20 150.81 L399.50 150.82 L399.80 150.83 L400.10 150.84 L400.40 150.85 L400.70 150.87 L401.00 150.88 L401.30 150.89 L401.60 150.91 L401.90 150.92 L402.20 150.93 L402.50 150.95 L402.80 150.96 L403.10 150.98 L403.40 151.00 L403.70 151.01 L404.00 151.03 L404.30 151.04 L404.60 151.06 L404.90 151.08 L405.20 151.09 L405.50 151.11 L405.80 151.13 L406.10 151.15 L406.40 151.16 L406.70 151.18 L407.00 151.20 L407.30 151.22 L407.60 151.24 L407.90 151.25 L408.20 151.27 L408.50 151.29 L408.80 151.31 L409.10 151.32 L409.40 151.34 L409.70 151.36 L410.00 151.38 L410.30 151.39 L410.60 151.41 L410.90 151.43 L411.20 151.44 L411.50 151.46 L411.80 151.47 L412.10 151.49 L412.40 151.50 L412.70 151.52 L413.00 151.53 L413.30 151.55 L413.60 151.56 L413.90 151.58 L414.20 151.59 L414.50 151.60 L414.80 151.61 L415.10 151.62 L415.40 151.64 L415.70 151.65 L416.00 151.66 L416.30 151.66 L416.60 151.67 L416.90 151.68 L417.20 151.69 L417.50 151.70 L417.80 151.70 L418.10 151.71 L418.40 151.71 L418.70 151.72 L419.00 151.72 L419.30 151.72 L419.60 151.72 L419.90 151.72 L420.00 151.72 L420.20 151.72 L420.50 151.72 L420.80 151.72 L421.10 151.72 L421.40 151.72 L421.70 151.72 L422.00 151.71 L422.30 151.71 L422.60 151.71 L422.90 151.70 L423.20 151.70 L423.50 151.69 L423.80 151.69 L424.10 151.68 L424.40 151.67 L424.70 151.67 L425.00 151.66 L425.30 151.65 L425.60 151.65 L425.90 151.64 L426.20 151.63 L426.50 151.62 L426.80 151.61 L427.10 151.60 L427.40 151.59 L427.70 151.58 L428.00 151.57 L428.30 151.56 L428.60 151.55 L428.90 151.54 L429.20 151.53 L429.50 151.52 L429.80 151.51 L430.10 151.50 L430.40 151.49 L430.70 151.48 L431.00 151.47 L431.30 151.45 L431.60 151.44 L431.90 151.43 L432.20 151.42 L432.50 151.40 L432.80 151.39 L433.10 151.38 L433.40 151.37 L433.70 151.35 L434.00 151.34 L434.30 151.33 L434.60 151.32 L434.90 151.30 L435.20 151.29 L435.50 151.28 L435.80 151.27 L436.10 151.25 L436.40 151.24 L436.70 151.23 L437.00 151.22 L437.30 151.20 L437.60 151.19 L437.90 151.18 L438.20 151.17 L438.50 151.15 L438.80 151.14 L439.10 151.13 L439.40 151.12 L439.70 151.11 L440.00 151.10 L440.30 151.09 L440.60 151.07 L440.90 151.06 L441.20 151.05 L441.50 151.04 L441.80 151.03 L442.10 151.02 L442.40 151.01 L442.70 151.00 L443.00 150.99 L443.30 150.98 L443.60 150.98 L443.90 150.97 L444.20 150.96 L444.50 150.95 L444.80 150.94 L445.10 150.94 L445.40 150.93 L445.70 150.92 L446.00 150.92 L446.30 150.91 L446.60 150.91 L446.90 150.90 L447.20 150.90 L447.50 150.89 L447.80 150.89 L448.10 150.89 L448.40 150.88 L448.70 150.88 L449.00 150.88 L449.30 150.88 L449.60 150.88 L449.90 150.88 L450.00 150.88 L450.20 150.88 L450.50 150.88 L450.80 150.88 L451.10 150.88 L451.40 150.88 L451.70 150.88 L452.00 150.89 L452.30 150.89 L452.60 150.89 L452.90 150.90 L453.20 150.90 L453.50 150.90 L453.80 150.91 L454.10 150.91 L454.40 150.92 L454.70 150.92 L455.00 150.93 L455.30 150.94 L455.60 150.94 L455.90 150.95 L456.20 150.95 L456.50 150.96 L456.80 150.97 L457.10 150.98 L457.40 150.98 L457.70 150.99 L458.00 151.00 L458.30 151.01 L458.60 151.02 L458.90 151.03 L459.20 151.04 L459.50 151.04 L459.80 151.05 L460.10 151.06 L460.40 151.07 L460.70 151.08 L461.00 151.09 L461.30 151.10 L461.60 151.11 L461.90 151.12 L462.20 151.13 L462.50 151.14 L462.80 151.15 L463.10 151.16 L463.40 151.17 L463.70 151.18 L464.00 151.19 L464.30 151.20 L464.60 151.22 L464.90 151.23 L465.20 151.24 L465.50 151.25 L465.80 151.26 L466.10 151.27 L466.40 151.28 L466.70 151.29 L467.00 151.30 L467.30 151.31 L467.60 151.32 L467.90 151.33 L468.20 151.34 L468.50 151.35 L468.80 151.36 L469.10 151.37 L469.40 151.38 L469.70 151.39 L470.00 151.40 L470.30 151.41 L470.60 151.42 L470.90 151.43 L471.20 151.44 L471.50 151.44 L471.80 151.45 L472.10 151.46 L472.40 151.47 L472.70 151.48 L473.00 151.48 L473.30 151.49 L473.60 151.50 L473.90 151.51 L474.20 151.51 L474.50 151.52 L474.80 151.53 L475.10 151.53 L475.40 151.54 L475.70 151.54 L476.00 151.55 L476.30 151.55 L476.60 151.56 L476.90 151.56 L477.20 151.56 L477.50 151.57 L477.80 151.57 L478.10 151.57 L478.40 151.58 L478.70 151.58 L479.00 151.58 L479.30 151.58 L479.60 151.58 L479.90 151.58 L480.00 151.58 L480.20 151.58 L480.50 151.58 L480.80 151.58 L481.10 151.58 L481.40 151.58 L481.70 151.58 L482.00 151.57 L482.30 151.57 L482.60 151.57 L482.90 151.57 L483.20 151.56 L483.50 151.56 L483.80 151.56 L484.10 151.55 L484.40 151.55 L484.70 151.54 L485.00 151.54 L485.30 151.54 L485.60 151.53 L485.90 151.53 L486.20 151.52 L486.50 151.51 L486.80 151.51 L487.10 151.50 L487.40 151.50 L487.70 151.49 L488.00 151.48 L488.30 151.48 L488.60 151.47 L488.90 151.46 L489.20 151.46 L489.50 151.45 L489.80 151.44 L490.10 151.43 L490.40 151.43 L490.70 151.42 L491.00 151.41 L491.30 151.40 L491.60 151.39 L491.90 151.39 L492.20 151.38 L492.50 151.37 L492.80 151.36 L493.10 151.35 L493.40 151.34 L493.70 151.34 L494.00 151.33 L494.30 151.32 L494.60 151.31 L494.90 151.30 L495.20 151.29 L495.50 151.29 L495.80 151.28 L496.10 151.27 L496.40 151.26 L496.70 151.25 L497.00 151.24 L497.30 151.24 L497.60 151.23 L497.90 151.22 L498.20 151.21 L498.50 151.20 L498.80 151.20 L499.10 151.19 L499.40 151.18 L499.70 151.17 L500.00 151.16 L500.30 151.16 L500.60 151.15 L500.90 151.14 L501.20 151.14 L501.50 151.13 L501.80 151.12 L502.10 151.11 L502.40 151.11 L502.70 151.10 L503.00 151.10 L503.30 151.09 L503.60 151.08 L503.90 151.08 L504.20 151.07 L504.50 151.07 L504.80 151.06 L505.10 151.06 L505.40 151.05 L505.70 151.05 L506.00 151.05 L506.30 151.04 L506.60 151.04 L506.90 151.03 L507.20 151.03 L507.50 151.03 L507.80 151.03 L508.10 151.02 L508.40 151.02 L508.70 151.02 L509.00 151.02 L509.30 151.02 L509.60 151.02 L509.90 151.02 L510.00 151.02 L510.20 151.02 L510.50 151.02 L510.80 151.02 L511.10 151.02 L511.40 151.02 L511.70 151.02 L512.00 151.02 L512.30 151.02 L512.60 151.02 L512.90 151.02 L513.20 151.02 L513.50 151.02 L513.80 151.02 L514.10 151.02 L514.40 151.03 L514.70 151.03 L515.00 151.03 L515.30 151.03 L515.60 151.03 L515.90 151.03 L516.20 151.03 L516.50 151.03 L516.80 151.04 L517.10 151.04 L517.40 151.04 L517.70 151.04 L518.00 151.04 L518.30 151.05 L518.60 151.05 L518.90 151.05 L519.20 151.05 L519.50 151.05 L519.80 151.06 L520.10 151.06 L520.40 151.06 L520.70 151.07 L521.00 151.07 L521.30 151.07 L521.60 151.07 L521.90 151.08 L522.20 151.08 L522.50 151.08 L522.80 151.09 L523.10 151.09 L523.40 151.09 L523.70 151.10 L524.00 151.10 L524.30 151.10 L524.60 151.11 L524.90 151.11 L525.20 151.12 L525.50 151.12 L525.80 151.13 L526.10 151.13 L526.40 151.13 L526.70 151.14 L527.00 151.14 L527.30 151.15 L527.60 151.15 L527.90 151.16 L528.20 151.16 L528.50 151.17 L528.80 151.17 L529.10 151.18 L529.40 151.18 L529.70 151.19 L530.00 151.20 L530.30 151.20 L530.60 151.21 L530.90 151.21 L531.20 151.22 L531.50 151.23 L531.80 151.23 L532.10 151.24 L532.40 151.25 L532.70 151.25 L533.00 151.26 L533.30 151.27 L533.60 151.27 L533.90 151.28 L534.20 151.29 L534.50 151.30 L534.70 151.30"/>
<path stroke="#77AC30" d="M78.20 151.30 L252.00 151.30 L252.20 151.30 L252.50 151.29 L252.80 151.29 L253.10 151.28 L253.40 151.26 L253.70 151.24 L254.00 151.22 L254.30 151.20 L254.60 151.17 L254.90 151.14 L255.20 151.11 L255.50 151.07 L255.80 151.04 L256.10 151.00 L256.40 150.95 L256.70 150.91 L257.00 150.87 L257.30 150.82 L257.60 150.77 L257.90 150.72 L258.20 150.67 L258.50 150.62 L258.80 150.56 L259.10 150.51 L259.40 150.45 L259.70 150.40 L260.00 150.34 L260.30 150.29 L260.60 150.23 L260.90 150.17 L261.20 150.11 L261.50 150.06 L261.80 150.00 L262.10 149.95 L262.40 149.89 L262.70 149.83 L263.00 149.78 L263.30 149.73 L263.60 149.67 L263.90 149.62 L264.20 149.57 L264.50 149.52 L264.80 149.48 L265.10 149.43 L265.40 149.39 L265.70 149.35 L266.00 149.31 L266.30 149.27 L266.60 149.24 L266.90 149.20 L267.20 149.17 L267.50 149.15 L267.80 149.12 L268.10 149.10 L268.40 149.08 L268.70 149.07 L269.00 149.06 L269.30 149.05 L269.60 149.04 L269.80 149.04 L269.90 149.04 L270.20 149.05 L270.50 149.08 L270.80 149.11 L271.10 149.15 L271.40 149.20 L271.70 149.26 L272.00 149.33 L272.30 149.40 L272.60 149.48 L272.90 149.57 L273.20 149.66 L273.50 149.76 L273.80 149.86 L274.10 149.96 L274.40 150.07 L274.70 150.18 L275.00 150.29 L275.30 150.40 L275.60 150.51 L275.90 150.62 L276.20 150.73 L276.50 150.83 L276.80 150.93 L277.10 151.03 L277.40 151.13 L277.70 151.22 L278.00 151.30 L278.00 151.30 L278.30 151.38 L278.60 151.47 L278.90 151.56 L279.20 151.65 L279.50 151.75 L279.80 151.85 L280.10 151.95 L280.40 152.05 L280.70 152.15 L281.00 152.26 L281.30 152.36 L281.60 152.47 L281.90 152.57 L282.20 152.68 L282.50 152.78 L282.80 152.89 L283.10 152.99 L283.40 153.09 L283.70 153.19 L284.00 153.29 L284.30 153.38 L284.60 153.47 L284.90 153.56 L285.20 153.65 L285.50 153.73 L285.80 153.80 L286.10 153.87 L286.40 153.94 L286.70 154.00 L287.00 154.06 L287.30 154.11 L287.60 154.15 L287.90 154.19 L288.20 154.22 L288.50 154.24 L288.80 154.25 L289.10 154.26 L289.20 154.26 L289.40 154.26 L289.70 154.24 L290.00 154.21 L290.30 154.16 L290.60 154.10 L290.90 154.03 L291.20 153.95 L291.50 153.85 L291.80 153.75 L292.10 153.63 L292.40 153.50 L292.70 153.37 L293.00 153.23 L293.30 153.07 L293.60 152.92 L293.90 152.75 L294.20 152.58 L294.50 152.41 L294.80 152.23 L295.10 152.04 L295.40 151.85 L295.70 151.66 L296.00 151.47 L296.30 151.27 L296.60 151.08 L296.90 150.88 L297.20 150.69 L297.50 150.49 L297.80 150.30 L298.10 150.11 L298.40 149.92 L298.70 149.73 L299.00 149.55 L299.30 149.37 L299.60 149.20 L299.90 149.03 L300.20 148.87 L300.50 148.72 L300.80 148.57 L301.10 148.44 L301.40 148.31 L301.70 148.19 L302.00 148.08 L302.30 147.98 L302.60 147.89 L302.90 147.81 L303.20 147.75 L303.50 147.70 L303.80 147.66 L304.10 147.64 L304.40 147.63 L304.40 147.63 L304.70 147.64 L305.00 147.66 L305.30 147.69 L305.60 147.73 L305.90 147.78 L306.20 147.84 L306.50 147.91 L306.80 147.99 L307.10 148.07 L307.40 148.17 L307.70 148.27 L308.00 148.38 L308.30 148.50 L308.60 148.62 L308.90 148.75 L309.20 148.89 L309.50 149.03 L309.80 149.18 L310.10 149.33 L310.40 149.48 L310.70 149.64 L311.00 149.80 L311.30 149.96 L311.60 150.12 L311.90 150.29 L312.20 150.46 L312.50 150.62 L312.80 150.79 L313.10 150.96 L313.40 151.13 L313.70 151.29 L314.00 151.46 L314.30 151.62 L314.60 151.78 L314.90 151.94 L315.20 152.10 L315.50 152.25 L315.80 152.39 L316.10 152.54 L316.40 152.67 L316.70 152.80 L317.00 152.93 L317.30 153.05 L317.60 153.16 L317.90 153.27 L318.20 153.37 L318.50 153.46 L318.80 153.54 L319.10 153.61 L319.40 153.68 L319.70 153.73 L320.00 153.77 L320.30 153.81 L320.60 153.83 L320.90 153.84 L321.00 153.84 L321.20 153.83 L321.50 153.82 L321.80 153.78 L322.10 153.74 L322.40 153.67 L322.70 153.60 L323.00 153.51 L323.30 153.42 L323.60 153.31 L323.90 153.19 L324.20 153.07 L324.50 152.93 L324.80 152.79 L325.10 152.64 L325.40 152.49 L325.70 152.32 L326.00 152.16 L326.30 151.99 L326.60 151.82 L326.90 151.64 L327.20 151.47 L327.50 151.29 L327.80 151.11 L328.10 150.93 L328.40 150.76 L328.70 150.58 L329.00 150.41 L329.30 150.24 L329.60 150.08 L329.90 149.92 L330.20 149.77 L330.50 149.62 L330.80 149.48 L331.10 149.35 L331.40 149.23 L331.70 149.11 L332.00 149.01 L332.30 148.91 L332.60 148.83 L332.90 148.76 L333.20 148.71 L333.50 148.66 L333.80 148.64 L334.10 148.62 L334.20 148.62 L334.40 148.62 L334.70 148.64 L335.00 148.67 L335.30 148.70 L335.60 148.75 L335.90 148.81 L336.20 148.88 L336.50 148.96 L336.80 149.04 L337.10 149.14 L337.40 149.24 L337.70 149.35 L338.00 149.46 L338.30 149.58 L338.60 149.70 L338.90 149.83 L339.20 149.96 L339.50 150.10 L339.80 150.24 L340.10 150.38 L340.40 150.52 L340.70 150.66 L341.00 150.81 L341.30 150.95 L341.60 151.09 L341.90 151.23 L342.20 151.37 L342.50 151.51 L342.80 151.64 L343.10 151.77 L343.40 151.89 L343.70 152.01 L344.00 152.13 L344.30 152.23 L344.60 152.34 L344.90 152.43 L345.20 152.52 L345.50 152.59 L345.80 152.66 L346.10 152.72 L346.40 152.77 L346.70 152.81 L347.00 152.83 L347.30 152.85 L347.50 152.85 L347.60 152.85 L347.90 152.84 L348.20 152.83 L348.50 152.81 L348.80 152.78 L349.10 152.74 L349.40 152.70 L349.70 152.65 L350.00 152.60 L350.30 152.54 L350.60 152.47 L350.90 152.40 L351.20 152.33 L351.50 152.25 L351.80 152.16 L352.10 152.07 L352.40 151.98 L352.70 151.88 L353.00 151.78 L353.30 151.68 L353.60 151.57 L353.90 151.46 L354.20 151.35 L354.50 151.24 L354.80 151.13 L355.10 151.01 L355.40 150.89 L355.70 150.77 L356.00 150.65 L356.30 150.53 L356.60 150.41 L356.90 150.29 L357.20 150.17 L357.50 150.06 L357.80 149.94 L358.10 149.82 L358.40 149.71 L358.70 149.59 L359.00 149.48 L359.30 149.37 L359.60 149.26 L359.90 149.16 L360.20 149.06 L360.50 148.96 L360.80 148.87 L361.10 148.78 L361.40 148.69 L361.70 148.61 L362.00 148.53 L362.30 148.46 L362.60 148.39 L362.90 148.33 L363.20 148.27 L363.50 148.22 L363.80 148.18 L364.10 148.14 L364.40 148.11 L364.70 148.08 L365.00 148.07 L365.30 148.06 L365.50 148.06 L365.60 148.06 L365.90 148.07 L366.20 148.08 L366.50 148.11 L366.80 148.15 L367.10 148.19 L367.40 148.25 L367.70 148.31 L368.00 148.38 L368.30 148.46 L368.60 148.54 L368.90 148.63 L369.20 148.73 L369.50 148.83 L369.80 148.94 L370.10 149.05 L370.40 149.16 L370.70 149.28 L371.00 149.41 L371.30 149.54 L371.60 149.67 L371.90 149.80 L372.20 149.94 L372.50 150.08 L372.80 150.22 L373.10 150.36 L373.40 150.50 L373.70 150.64 L374.00 150.78 L374.30 150.93 L374.60 151.07 L374.90 151.21 L375.20 151.35 L375.50 151.48 L375.80 151.62 L376.10 151.75 L376.40 151.88 L376.70 152.00 L377.00 152.13 L377.30 152.25 L377.60 152.36 L377.90 152.47 L378.20 152.57 L378.50 152.67 L378.80 152.76 L379.10 152.85 L379.40 152.93 L379.70 153.00 L380.00 153.06 L380.30 153.12 L380.60 153.17 L380.90 153.21 L381.20 153.24 L381.50 153.26 L381.80 153.27 L382.00 153.27 L382.10 153.27 L382.40 153.27 L382.70 153.26 L383.00 153.24 L383.30 153.22 L383.60 153.19 L383.90 153.16 L384.20 153.12 L384.50 153.07 L384.80 153.03 L385.10 152.97 L385.40 152.92 L385.70 152.86 L386.00 152.79 L386.30 152.73 L386.60 152.66 L386.90 152.58 L387.20 152.50 L387.50 152.42 L387.80 152.34 L388.10 152.26 L388.40 152.17 L388.70 152.08 L389.00 151.99 L389.30 151.90 L389.60 151.81 L389.90 151.72 L390.20 151.62 L390.50 151.53 L390.80 151.43 L391.10 151.34 L391.40 151.24 L391.70 151.15 L392.00 151.05 L392.30 150.96 L392.60 150.87 L392.90 150.78 L393.20 150.69 L393.50 150.60 L393.80 150.51 L394.10 150.43 L394.40 150.34 L394.70 150.26 L395.00 150.19 L395.30 150.11 L395.60 150.04 L395.90 149.97 L396.20 149.90 L396.50 149.84 L396.80 149.79 L397.10 149.73 L397.40 149.68 L397.70 149.64 L398.00 149.60 L398.30 149.56 L398.60 149.53 L398.90 149.51 L399.20 149.49 L399.50 149.48 L399.80 149.47 L400.00 149.47 L400.10 149.47 L400.40 149.47 L400.70 149.48 L401.00 149.49 L401.30 149.51 L401.60 149.53 L401.90 149.55 L402.20 149.58 L402.50 149.61 L402.80 149.64 L403.10 149.68 L403.40 149.72 L403.70 149.76 L404.00 149.81 L404.30 149.85 L404.60 149.90 L404.90 149.95 L405.20 150.01 L405.50 150.06 L405.80 150.12 L406.10 150.18 L406.40 150.24 L406.70 150.30 L407.00 150.37 L407.30 150.43 L407.60 150.50 L407.90 150.56 L408.20 150.63 L408.50 150.69 L408.80 150.76 L409.10 150.83 L409.40 150.90 L409.70 150.96 L410.00 151.03 L410.30 151.09 L410.60 151.16 L410.90 151.22 L411.20 151.29 L411.50 151.35 L411.80 151.41 L412.10 151.47 L412.40 151.53 L412.70 151.59 L413.00 151.64 L413.30 151.69 L413.60 151.74 L413.90 151.79 L414.20 151.84 L414.50 151.88 L414.80 151.92 L415.10 151.96 L415.40 151.99 L415.70 152.03 L416.00 152.05 L416.30 152.08 L416.60 152.10 L416.90 152.12 L417.20 152.13 L417.50 152.14 L417.80 152.15 L418.00 152.15 L418.10 152.15 L418.40 152.14 L418.70 152.14 L419.00 152.13 L419.30 152.12 L419.60 152.11 L419.90 152.10 L420.20 152.08 L420.50 152.06 L420.80 152.04 L421.10 152.02 L421.40 152.00 L421.70 151.97 L422.00 151.95 L422.30 151.92 L422.60 151.89 L422.90 151.86 L423.20 151.83 L423.50 151.80 L423.80 151.77 L424.10 151.73 L424.40 151.70 L424.70 151.66 L425.00 151.63 L425.30 151.59 L425.60 151.55 L425.90 151.52 L426.20 151.48 L426.50 151.44 L426.80 151.40 L427.10 151.37 L427.40 151.33 L427.70 151.29 L428.00 151.26 L428.30 151.22 L428.60 151.19 L428.90 151.15 L429.20 151.12 L429.50 151.08 L429.80 151.05 L430.10 151.02 L430.40 150.99 L430.70 150.96 L431.00 150.93 L431.30 150.91 L431.60 150.88 L431.90 150.86 L432.20 150.84 L432.50 150.82 L432.80 150.80 L433.10 150.78 L433.40 150.77 L433.70 150.76 L434.00 150.75 L434.30 150.74 L434.60 150.74 L434.90 150.74 L435.00 150.74 L435.20 150.74 L435.50 150.74 L435.80 150.74 L436.10 150.74 L436.40 150.75 L436.70 150.76 L437.00 150.76 L437.30 150.77 L437.60 150.78 L437.90 150.79 L438.20 150.80 L438.50 150.82 L438.80 150.83 L439.10 150.84 L439.40 150.86 L439.70 150.87 L440.00 150.89 L440.30 150.91 L440.60 150.92 L440.90 150.94 L441.20 150.96 L441.50 150.98 L441.80 151.00 L442.10 151.02 L442.40 151.04 L442.70 151.06 L443.00 151.08 L443.30 151.10 L443.60 151.13 L443.90 151.15 L444.20 151.17 L444.50 151.19 L444.80 151.21 L445.10 151.24 L445.40 151.26 L445.70 151.28 L446.00 151.30 L446.30 151.33 L446.60 151.35 L446.90 151.37 L447.20 151.39 L447.50 151.41 L447.80 151.43 L448.10 151.45 L448.40 151.47 L448.70 151.49 L449.00 151.51 L449.30 151.53 L449.60 151.55 L449.90 151.56 L450.20 151.58 L450.50 151.60 L450.80 151.61 L451.10 151.63 L451.40 151.64 L451.70 151.65 L452.00 151.66 L452.30 151.67 L452.60 151.68 L452.90 151.69 L453.20 151.70 L453.50 151.71 L453.80 151.71 L454.10 151.72 L454.40 151.72 L454.70 151.72 L455.00 151.72 L455.00 151.72 L455.30 151.72 L455.60 151.72 L455.90 151.72 L456.20 151.72 L456.50 151.71 L456.80 151.71 L457.10 151.70 L457.40 151.69 L457.70 151.69 L458.00 151.68 L458.30 151.67 L458.60 151.66 L458.90 151.65 L459.20 151.64 L459.50 151.63 L459.80 151.62 L460.10 151.61 L460.40 151.60 L460.70 151.58 L461.00 151.57 L461.30 151.56 L461.60 151.54 L461.90 151.53 L462.20 151.51 L462.50 151.50 L462.80 151.48 L463.10 151.47 L463.40 151.45 L463.70 151.44 L464.00 151.42 L464.30 151.41 L464.60 151.39 L464.90 151.38 L465.20 151.36 L465.50 151.34 L465.80 151.33 L466.10 151.31 L466.40 151.30 L466.70 151.28 L467.00 151.27 L467.30 151.25 L467.60 151.24 L467.90 151.22 L468.20 151.21 L468.50 151.19 L468.80 151.18 L469.10 151.17 L469.40 151.15 L469.70 151.14 L470.00 151.13 L470.30 151.12 L470.60 151.11 L470.90 151.09 L471.20 151.08 L471.50 151.08 L471.80 151.07 L472.10 151.06 L472.40 151.05 L472.70 151.04 L473.00 151.04 L473.30 151.03 L473.60 151.03 L473.90 151.02 L474.20 151.02 L474.50 151.02 L474.80 151.02 L475.00 151.02 L475.10 151.02 L475.40 151.02 L475.70 151.02 L476.00 151.02 L476.30 151.02 L476.60 151.02 L476.90 151.03 L477.20 151.03 L477.50 151.03 L477.80 151.04 L478.10 151.04 L478.40 151.05 L478.70 151.05 L479.00 151.06 L479.30 151.06 L479.60 151.07 L479.90 151.07 L480.20 151.08 L480.50 151.09 L480.80 151.09 L481.10 151.10 L481.40 151.11 L481.70 151.12 L482.00 151.13 L482.30 151.13 L482.60 151.14 L482.90 151.15 L483.20 151.16 L483.50 151.17 L483.80 151.18 L484.10 151.19 L484.40 151.20 L484.70 151.21 L485.00 151.22 L485.30 151.23 L485.60 151.24 L485.90 151.25 L486.20 151.26 L486.50 151.27 L486.80 151.28 L487.10 151.29 L487.40 151.30 L487.70 151.31 L488.00 151.32 L488.30 151.33 L488.60 151.34 L488.90 151.35 L489.20 151.36 L489.50 151.37 L489.80 151.38 L490.10 151.39 L490.40 151.40 L490.70 151.41 L491.00 151.42 L491.30 151.42 L491.60 151.43 L491.90 151.44 L492.20 151.45 L492.50 151.46 L492.80 151.47 L493.10 151.48 L493.40 151.48 L493.70 151.49 L494.00 151.50 L494.30 151.51 L494.60 151.51 L494.90 151.52 L495.20 151.53 L495.50 151.53 L495.80 151.54 L496.10 151.55 L496.40 151.55 L496.70 151.56 L497.00 151.56 L497.30 151.56 L497.60 151.57 L497.90 151.57 L498.20 151.57 L498.50 151.58 L498.80 151.58 L499.10 151.58 L499.40 151.58 L499.70 151.58 L500.00 151.58 L500.30 151.58 L500.60 151.58 L500.90 151.58 L501.20 151.58 L501.50 151.58 L501.80 151.58 L502.10 151.58 L502.40 151.58 L502.70 151.58 L503.00 151.58 L503.30 151.58 L503.60 151.58 L503.90 151.58 L504.20 151.58 L504.50 151.58 L504.80 151.58 L505.10 151.58 L505.40 151.58 L505.70 151.58 L506.00 151.58 L506.30 151.58 L506.60 151.58 L506.90 151.58 L507.20 151.58 L507.50 151.58 L507.80 151.58 L508.10 151.58 L508.40 151.58 L508.70 151.58 L509.00 151.58 L509.30 151.58 L509.60 151.58 L509.90 151.58 L510.20 151.57 L510.50 151.57 L510.80 151.57 L511.10 151.57 L511.40 151.57 L511.70 151.57 L512.00 151.57 L512.30 151.57 L512.60 151.57 L512.90 151.57 L513.20 151.57 L513.50 151.57 L513.80 151.56 L514.10 151.56 L514.40 151.56 L514.70 151.56 L515.00 151.56 L515.30 151.56 L515.60 151.56 L515.90 151.55 L516.20 151.55 L516.50 151.55 L516.80 151.55 L517.10 151.55 L517.40 151.55 L517.70 151.54 L518.00 151.54 L518.30 151.54 L518.60 151.54 L518.90 151.54 L519.20 151.53 L519.50 151.53 L519.80 151.53 L520.10 151.53 L520.40 151.52 L520.70 151.52 L521.00 151.52 L521.30 151.52 L521.60 151.51 L521.90 151.51 L522.20 151.51 L522.50 151.51 L522.80 151.50 L523.10 151.50 L523.40 151.50 L523.70 151.49 L524.00 151.49 L524.30 151.49 L524.60 151.48 L524.90 151.48 L525.20 151.47 L525.50 151.47 L525.80 151.47 L526.10 151.46 L526.40 151.46 L526.70 151.45 L527.00 151.45 L527.30 151.44 L527.60 151.44 L527.90 151.44 L528.20 151.43 L528.50 151.43 L528.80 151.42 L529.10 151.42 L529.40 151.41 L529.70 151.41 L530.00 151.40 L530.30 151.39 L530.60 151.39 L530.90 151.38 L531.20 151.38 L531.50 151.37 L531.80 151.36 L532.10 151.36 L532.40 151.35 L532.70 151.35 L533.00 151.34 L533.30 151.33 L533.60 151.33 L533.90 151.32 L534.20 151.31 L534.50 151.30 L534.70 151.30"/>
<path stroke="#4DBEEE" d="M78.20 151.30 L400.00 151.30 L400.10 151.30 L400.40 151.30 L400.70 151.30 L401.00 151.30 L401.30 151.31 L401.60 151.31 L401.90 151.31 L402.20 151.32 L402.50 151.32 L402.80 151.33 L403.10 151.33 L403.40 151.34 L403.70 151.34 L404.00 151.35 L404.30 151.36 L404.60 151.36 L404.90 151.37 L405.20 151.38 L405.50 151.39 L405.80 151.40 L406.10 151.41 L406.40 151.42 L406.70 151.43 L407.00 151.43 L407.30 151.45 L407.60 151.46 L407.90 151.47 L408.20 151.48 L408.50 151.49 L408.80 151.50 L409.10 151.51 L409.40 151.52 L409.70 151.53 L410.00 151.54 L410.30 151.56 L410.60 151.57 L410.90 151.58 L411.20 151.59 L411.50 151.60 L411.80 151.61 L412.10 151.62 L412.40 151.64 L412.70 151.65 L413.00 151.66 L413.30 151.67 L413.60 151.68 L413.90 151.69 L414.20 151.70 L414.50 151.71 L414.80 151.72 L415.10 151.73 L415.40 151.74 L415.70 151.75 L416.00 151.76 L416.30 151.77 L416.60 151.78 L416.90 151.79 L417.20 151.80 L417.50 151.80 L417.80 151.81 L418.10 151.82 L418.40 151.82 L418.70 151.83 L419.00 151.84 L419.30 151.84 L419.60 151.85 L419.90 151.85 L420.20 151.85 L420.50 151.86 L420.80 151.86 L421.10 151.86 L421.40 151.86 L421.70 151.86 L422.00 151.86 L422.00 151.86 L422.30 151.86 L422.60 151.86 L422.90 151.86 L423.20 151.85 L423.50 151.85 L423.80 151.84 L424.10 151.83 L424.40 151.82 L424.70 151.81 L425.00 151.80 L425.30 151.79 L425.60 151.78 L425.90 151.76 L426.20 151.75 L426.50 151.73 L426.80 151.72 L427.10 151.70 L427.40 151.68 L427.70 151.66 L428.00 151.64 L428.30 151.63 L428.60 151.61 L428.90 151.59 L429.20 151.57 L429.50 151.55 L429.80 151.53 L430.10 151.50 L430.40 151.48 L430.70 151.46 L431.00 151.44 L431.30 151.42 L431.60 151.40 L431.90 151.38 L432.20 151.36 L432.50 151.34 L432.80 151.32 L433.10 151.30 L433.40 151.28 L433.70 151.26 L434.00 151.24 L434.30 151.22 L434.60 151.20 L434.90 151.18 L435.20 151.17 L435.50 151.15 L435.80 151.13 L436.10 151.12 L436.40 151.11 L436.70 151.09 L437.00 151.08 L437.30 151.07 L437.60 151.06 L437.90 151.05 L438.20 151.04 L438.50 151.03 L438.80 151.03 L439.10 151.02 L439.40 151.02 L439.70 151.02 L440.00 151.02 L440.00 151.02 L440.30 151.02 L440.60 151.02 L440.90 151.02 L441.20 151.02 L441.50 151.03 L441.80 151.03 L442.10 151.04 L442.40 151.04 L442.70 151.05 L443.00 151.06 L443.30 151.07 L443.60 151.08 L443.90 151.09 L444.20 151.10 L444.50 151.11 L444.80 151.12 L445.10 151.13 L445.40 151.14 L445.70 151.15 L446.00 151.17 L446.30 151.18 L446.60 151.19 L446.90 151.21 L447.20 151.22 L447.50 151.24 L447.80 151.25 L448.10 151.27 L448.40 151.29 L448.70 151.30 L449.00 151.32 L449.30 151.34 L449.60 151.35 L449.90 151.37 L450.20 151.39 L450.50 151.41 L450.80 151.42 L451.10 151.44 L451.40 151.46 L451.70 151.48 L452.00 151.50 L452.30 151.51 L452.60 151.53 L452.90 151.55 L453.20 151.57 L453.50 151.59 L453.80 151.60 L454.10 151.62 L454.40 151.64 L454.70 151.66 L455.00 151.67 L455.30 151.69 L455.60 151.71 L455.90 151.73 L456.20 151.74 L456.50 151.76 L456.80 151.77 L457.10 151.79 L457.40 151.80 L457.70 151.82 L458.00 151.83 L458.30 151.85 L458.60 151.86 L458.90 151.87 L459.20 151.89 L459.50 151.90 L459.80 151.91 L460.10 151.92 L460.40 151.93 L460.70 151.94 L461.00 151.95 L461.30 151.96 L461.60 151.97 L461.90 151.97 L462.20 151.98 L462.50 151.99 L462.80 151.99 L463.10 152.00 L463.40 152.00 L463.70 152.00 L464.00 152.00 L464.30 152.00 L464.50 152.01 L464.60 152.00 L464.90 152.00 L465.20 152.00 L465.50 151.99 L465.80 151.98 L466.10 151.97 L466.40 151.95 L466.70 151.94 L467.00 151.92 L467.30 151.89 L467.60 151.87 L467.90 151.85 L468.20 151.82 L468.50 151.79 L468.80 151.76 L469.10 151.73 L469.40 151.70 L469.70 151.66 L470.00 151.63 L470.30 151.59 L470.60 151.55 L470.90 151.52 L471.20 151.48 L471.50 151.44 L471.80 151.40 L472.10 151.35 L472.40 151.31 L472.70 151.27 L473.00 151.23 L473.30 151.19 L473.60 151.14 L473.90 151.10 L474.20 151.06 L474.50 151.02 L474.80 150.98 L475.10 150.94 L475.40 150.90 L475.70 150.85 L476.00 150.82 L476.30 150.78 L476.60 150.74 L476.90 150.70 L477.20 150.67 L477.50 150.63 L477.80 150.60 L478.10 150.57 L478.40 150.54 L478.70 150.51 L479.00 150.48 L479.30 150.45 L479.60 150.43 L479.90 150.41 L480.20 150.39 L480.50 150.37 L480.80 150.36 L481.10 150.34 L481.40 150.33 L481.70 150.32 L482.00 150.32 L482.30 150.31 L482.50 150.31 L482.60 150.31 L482.90 150.31 L483.20 150.31 L483.50 150.32 L483.80 150.32 L484.10 150.32 L484.40 150.33 L484.70 150.33 L485.00 150.33 L485.30 150.34 L485.60 150.34 L485.90 150.35 L486.20 150.36 L486.50 150.36 L486.80 150.37 L487.10 150.38 L487.40 150.39 L487.70 150.40 L488.00 150.41 L488.30 150.41 L488.60 150.42 L488.90 150.43 L489.20 150.44 L489.50 150.45 L489.80 150.47 L490.10 150.48 L490.40 150.49 L490.70 150.50 L491.00 150.51 L491.30 150.52 L491.60 150.54 L491.90 150.55 L492.20 150.56 L492.50 150.57 L492.80 150.58 L493.10 150.60 L493.40 150.61 L493.70 150.62 L494.00 150.64 L494.30 150.65 L494.60 150.66 L494.90 150.67 L495.20 150.69 L495.50 150.70 L495.80 150.71 L496.10 150.73 L496.40 150.74 L496.70 150.75 L497.00 150.76 L497.30 150.78 L497.60 150.79 L497.90 150.80 L498.20 150.81 L498.50 150.82 L498.80 150.83 L499.10 150.85 L499.40 150.86 L499.70 150.87 L500.00 150.88 L500.00 150.88 L500.30 150.89 L500.60 150.90 L500.90 150.91 L501.20 150.92 L501.50 150.93 L501.80 150.94 L502.10 150.95 L502.40 150.96 L502.70 150.97 L503.00 150.98 L503.30 150.99 L503.60 151.00 L503.90 151.01 L504.20 151.02 L504.50 151.03 L504.80 151.04 L505.10 151.06 L505.40 151.07 L505.70 151.08 L506.00 151.09 L506.30 151.10 L506.60 151.11 L506.90 151.12 L507.20 151.13 L507.50 151.14 L507.80 151.15 L508.10 151.16 L508.40 151.17 L508.70 151.18 L509.00 151.20 L509.30 151.21 L509.60 151.22 L509.90 151.23 L510.20 151.24 L510.50 151.25 L510.80 151.26 L511.10 151.27 L511.40 151.28 L511.70 151.29 L512.00 151.30 L512.00 151.30 L512.30 151.31 L512.60 151.32 L512.90 151.33 L513.20 151.34 L513.50 151.36 L513.80 151.37 L514.10 151.38 L514.40 151.39 L514.70 151.40 L515.00 151.42 L515.30 151.43 L515.60 151.44 L515.90 151.46 L516.20 151.47 L516.50 151.48 L516.80 151.49 L517.10 151.51 L517.40 151.52 L517.70 151.53 L518.00 151.55 L518.30 151.56 L518.60 151.57 L518.90 151.59 L519.20 151.60 L519.50 151.61 L519.80 151.62 L520.10 151.63 L520.40 151.65 L520.70 151.66 L521.00 151.67 L521.30 151.68 L521.60 151.69 L521.90 151.70 L522.20 151.71 L522.50 151.72 L522.80 151.73 L523.10 151.74 L523.40 151.74 L523.70 151.75 L524.00 151.76 L524.30 151.76 L524.60 151.77 L524.90 151.78 L525.20 151.78 L525.50 151.78 L525.80 151.79 L526.10 151.79 L526.40 151.79 L526.70 151.79 L527.00 151.79 L527.00 151.79 L527.30 151.79 L527.60 151.79 L527.90 151.79 L528.20 151.79 L528.50 151.78 L528.80 151.78 L529.10 151.77 L529.40 151.77 L529.70 151.76 L530.00 151.76 L530.30 151.75 L530.60 151.74 L530.90 151.73 L531.20 151.72 L531.50 151.71 L531.80 151.70 L532.10 151.69 L532.40 151.68 L532.70 151.67 L533.00 151.66 L533.30 151.65 L533.60 151.63 L533.90 151.62 L534.20 151.61 L534.50 151.59 L534.70 151.58"/>
<path stroke="#A2142F" d="M78.20 151.30 L405.00 151.30 L405.20 151.30 L405.50 151.30 L405.80 151.30 L406.10 151.30 L406.40 151.30 L406.70 151.29 L407.00 151.29 L407.30 151.29 L407.60 151.29 L407.90 151.29 L408.20 151.28 L408.50 151.28 L408.80 151.28 L409.10 151.27 L409.40 151.27 L409.70 151.27 L410.00 151.26 L410.30 151.26 L410.60 151.26 L410.90 151.25 L411.20 151.25 L411.50 151.24 L411.80 151.24 L412.10 151.24 L412.40 151.23 L412.70 151.23 L413.00 151.22 L413.30 151.22 L413.60 151.21 L413.90 151.21 L414.20 151.21 L414.50 151.20 L414.80 151.20 L415.10 151.19 L415.40 151.19 L415.70 151.19 L416.00 151.18 L416.30 151.18 L416.60 151.18 L416.90 151.17 L417.20 151.17 L417.50 151.17 L417.80 151.17 L418.10 151.17 L418.40 151.16 L418.70 151.16 L419.00 151.16 L419.30 151.16 L419.60 151.16 L419.90 151.16 L420.00 151.16 L420.20 151.16 L420.50 151.16 L420.80 151.17 L421.10 151.18 L421.40 151.19 L421.70 151.21 L422.00 151.22 L422.30 151.24 L422.60 151.26 L422.90 151.28 L423.20 151.31 L423.50 151.33 L423.80 151.36 L424.10 151.39 L424.40 151.42 L424.70 151.45 L425.00 151.48 L425.30 151.51 L425.60 151.54 L425.90 151.57 L426.20 151.60 L426.50 151.63 L426.80 151.67 L427.10 151.70 L427.40 151.73 L427.70 151.76 L428.00 151.79 L428.30 151.81 L428.60 151.84 L428.90 151.86 L429.20 151.89 L429.50 151.91 L429.80 151.93 L430.10 151.95 L430.40 151.96 L430.70 151.98 L431.00 151.99 L431.30 152.00 L431.60 152.00 L431.90 152.00 L432.00 152.01 L432.20 152.00 L432.50 152.00 L432.80 152.00 L433.10 151.99 L433.40 151.99 L433.70 151.98 L434.00 151.97 L434.30 151.96 L434.60 151.94 L434.90 151.93 L435.20 151.91 L435.50 151.90 L435.80 151.88 L436.10 151.86 L436.40 151.84 L436.70 151.82 L437.00 151.79 L437.30 151.77 L437.60 151.74 L437.90 151.72 L438.20 151.69 L438.50 151.67 L438.80 151.64 L439.10 151.61 L439.40 151.58 L439.70 151.55 L440.00 151.52 L440.30 151.49 L440.60 151.46 L440.90 151.43 L441.20 151.40 L441.50 151.37 L441.80 151.34 L442.10 151.30 L442.40 151.27 L442.70 151.24 L443.00 151.21 L443.30 151.18 L443.60 151.14 L443.90 151.11 L444.20 151.08 L444.50 151.05 L444.80 151.02 L445.10 150.99 L445.40 150.96 L445.70 150.93 L446.00 150.90 L446.30 150.87 L446.60 150.85 L446.90 150.82 L447.20 150.79 L447.50 150.77 L447.80 150.74 L448.10 150.72 L448.40 150.70 L448.70 150.68 L449.00 150.66 L449.30 150.64 L449.60 150.62 L449.90 150.60 L450.00 150.59 L450.20 150.58 L450.50 150.57 L450.80 150.55 L451.10 150.53 L451.40 150.52 L451.70 150.50 L452.00 150.48 L452.30 150.47 L452.60 150.45 L452.90 150.43 L453.20 150.41 L453.50 150.40 L453.80 150.38 L454.10 150.36 L454.40 150.35 L454.70 150.33 L455.00 150.32 L455.30 150.30 L455.60 150.29 L455.90 150.27 L456.20 150.26 L456.50 150.25 L456.80 150.24 L457.10 150.23 L457.40 150.22 L457.70 150.21 L458.00 150.20 L458.30 150.19 L458.60 150.19 L458.90 150.18 L459.20 150.18 L459.50 150.17 L459.80 150.17 L460.00 150.17 L460.10 150.17 L460.40 150.17 L460.70 150.18 L461.00 150.18 L461.30 150.18 L461.60 150.19 L461.90 150.19 L462.20 150.20 L462.50 150.21 L462.80 150.22 L463.10 150.23 L463.40 150.24 L463.70 150.25 L464.00 150.27 L464.30 150.28 L464.60 150.29 L464.90 150.31 L465.20 150.33 L465.50 150.34 L465.80 150.36 L466.10 150.38 L466.40 150.40 L466.70 150.42 L467.00 150.44 L467.30 150.46 L467.60 150.48 L467.90 150.50 L468.20 150.52 L468.50 150.55 L468.80 150.57 L469.10 150.59 L469.40 150.62 L469.70 150.64 L470.00 150.67 L470.30 150.69 L470.60 150.72 L470.90 150.74 L471.20 150.77 L471.50 150.79 L471.80 150.82 L472.10 150.85 L472.40 150.87 L472.70 150.90 L473.00 150.93 L473.30 150.95 L473.60 150.98 L473.90 151.01 L474.20 151.04 L474.50 151.06 L474.80 151.09 L475.10 151.12 L475.40 151.14 L475.70 151.17 L476.00 151.20 L476.30 151.22 L476.60 151.25 L476.90 151.28 L477.20 151.30 L477.50 151.33 L477.80 151.35 L478.10 151.38 L478.40 151.40 L478.70 151.43 L479.00 151.45 L479.30 151.48 L479.60 151.50 L479.90 151.52 L480.20 151.54 L480.50 151.56 L480.80 151.59 L481.10 151.61 L481.40 151.63 L481.70 151.65 L482.00 151.66 L482.30 151.68 L482.60 151.70 L482.90 151.72 L483.20 151.73 L483.50 151.75 L483.80 151.76 L484.10 151.77 L484.40 151.79 L484.70 151.80 L485.00 151.81 L485.30 151.82 L485.60 151.83 L485.90 151.84 L486.20 151.84 L486.50 151.85 L486.80 151.85 L487.10 151.86 L487.40 151.86 L487.70 151.86 L488.00 151.86 L488.00 151.86 L488.30 151.86 L488.60 151.86 L488.90 151.86 L489.20 151.86 L489.50 151.85 L489.80 151.85 L490.10 151.84 L490.40 151.83 L490.70 151.83 L491.00 151.82 L491.30 151.81 L491.60 151.80 L491.90 151.79 L492.20 151.78 L492.50 151.77 L492.80 151.75 L493.10 151.74 L493.40 151.73 L493.70 151.71 L494.00 151.70 L494.30 151.68 L494.60 151.67 L494.90 151.65 L495.20 151.63 L495.50 151.61 L495.80 151.60 L496.10 151.58 L496.40 151.56 L496.70 151.54 L497.00 151.52 L497.30 151.50 L497.60 151.48 L497.90 151.46 L498.20 151.44 L498.50 151.42 L498.80 151.40 L499.10 151.37 L499.40 151.35 L499.70 151.33 L500.00 151.31 L500.30 151.29 L500.60 151.26 L500.90 151.24 L501.20 151.22 L501.50 151.20 L501.80 151.17 L502.10 151.15 L502.40 151.13 L502.70 151.11 L503.00 151.08 L503.30 151.06 L503.60 151.04 L503.90 151.02 L504.20 150.99 L504.50 150.97 L504.80 150.95 L505.10 150.93 L505.40 150.91 L505.70 150.89 L506.00 150.87 L506.30 150.84 L506.60 150.82 L506.90 150.80 L507.20 150.78 L507.50 150.76 L507.80 150.75 L508.10 150.73 L508.40 150.71 L508.70 150.69 L509.00 150.67 L509.30 150.66 L509.60 150.64 L509.90 150.63 L510.20 150.61 L510.50 150.60 L510.80 150.58 L511.10 150.57 L511.40 150.56 L511.70 150.54 L512.00 150.53 L512.30 150.52 L512.60 150.51 L512.90 150.50 L513.20 150.49 L513.50 150.49 L513.80 150.48 L514.10 150.47 L514.40 150.47 L514.70 150.46 L515.00 150.46 L515.30 150.46 L515.60 150.45 L515.90 150.45 L516.00 150.45 L516.20 150.45 L516.50 150.45 L516.80 150.46 L517.10 150.46 L517.40 150.46 L517.70 150.46 L518.00 150.47 L518.30 150.47 L518.60 150.48 L518.90 150.48 L519.20 150.49 L519.50 150.49 L519.80 150.50 L520.10 150.51 L520.40 150.52 L520.70 150.53 L521.00 150.54 L521.30 150.55 L521.60 150.56 L521.90 150.57 L522.20 150.58 L522.50 150.59 L522.80 150.60 L523.10 150.62 L523.40 150.63 L523.70 150.64 L524.00 150.66 L524.30 150.67 L524.60 150.69 L524.90 150.70 L525.20 150.72 L525.50 150.74 L525.80 150.75 L526.10 150.77 L526.40 150.79 L526.70 150.81 L527.00 150.83 L527.30 150.85 L527.60 150.87 L527.90 150.89 L528.20 150.91 L528.50 150.93 L528.80 150.95 L529.10 150.97 L529.40 150.99 L529.70 151.01 L530.00 151.04 L530.30 151.06 L530.60 151.08 L530.90 151.11 L531.20 151.13 L531.50 151.16 L531.80 151.18 L532.10 151.21 L532.40 151.23 L532.70 151.26 L533.00 151.29 L533.30 151.31 L533.60 151.34 L533.90 151.37 L534.20 151.39 L534.50 151.42 L534.70 151.44"/>
</g>
<g fill="#262626" font-size="19.7px">
<text x="76.30" y="388.8" text-anchor="middle">0</text>
<text x="151.78" y="388.8" text-anchor="middle">20</text>
<text x="227.95" y="388.8" text-anchor="middle">40</text>
<text x="304.12" y="388.8" text-anchor="middle">60</text>
<text x="380.30" y="388.8" text-anchor="middle">80</text>
<text x="456.48" y="388.8" text-anchor="middle">100</text>
<text x="532.65" y="388.8" text-anchor="middle">120</text>
<text x="67.9" y="17.05" text-anchor="end">1</text>
<text x="66.0" y="87.50" text-anchor="end">0.5</text>
<text x="68.7" y="157.95" text-anchor="end">0</text>
<text x="66.0" y="228.40" text-anchor="end">-0.5</text>
<text x="67.0" y="298.85" text-anchor="end">-1</text>
<text x="65.7" y="369.90" text-anchor="end">-1.5</text>
</g>
<g fill="#262626" font-size="19.55px">
<text x="300.0" y="414.5" text-anchor="middle">Time (min)</text>
<text transform="translate(22.5 194.9) rotate(-90)" text-anchor="middle">Elevation (m)</text>
</g>
<rect x="327.9" y="175.7" width="195.00" height="176.30" fill="#fff" stroke="#262626" stroke-width="1.1"/>
<g font-size="19.7px" fill="#000">
<path d="M332.1 189.65H374.3" stroke="#0072BD" stroke-width="3.05" fill="none"/>
<text x="377.5" y="197.10">Gomera</text>
<path d="M332.1 214.38H374.3" stroke="#D95319" stroke-width="3.05" fill="none"/>
<text x="377.5" y="221.83">El Hierro</text>
<path d="M332.1 239.11H374.3" stroke="#EDB120" stroke-width="3.05" fill="none"/>
<text x="377.5" y="246.56">Pto Cruz</text>
<path d="M332.1 263.84H374.3" stroke="#7E2F8E" stroke-width="3.05" fill="none"/>
<text x="377.5" y="271.29">Fuerteventura</text>
<path d="M332.1 288.57H374.3" stroke="#77AC30" stroke-width="3.05" fill="none"/>
<text x="377.5" y="296.02">Lanzarote</text>
<path d="M332.1 313.30H374.3" stroke="#4DBEEE" stroke-width="3.05" fill="none"/>
<text x="377.5" y="320.75">Essaouira</text>
<path d="M332.1 338.03H374.3" stroke="#A2142F" stroke-width="3.05" fill="none"/>
<text x="377.5" y="345.48">Dajla</text>
</g>
</svg>
</body></html>
